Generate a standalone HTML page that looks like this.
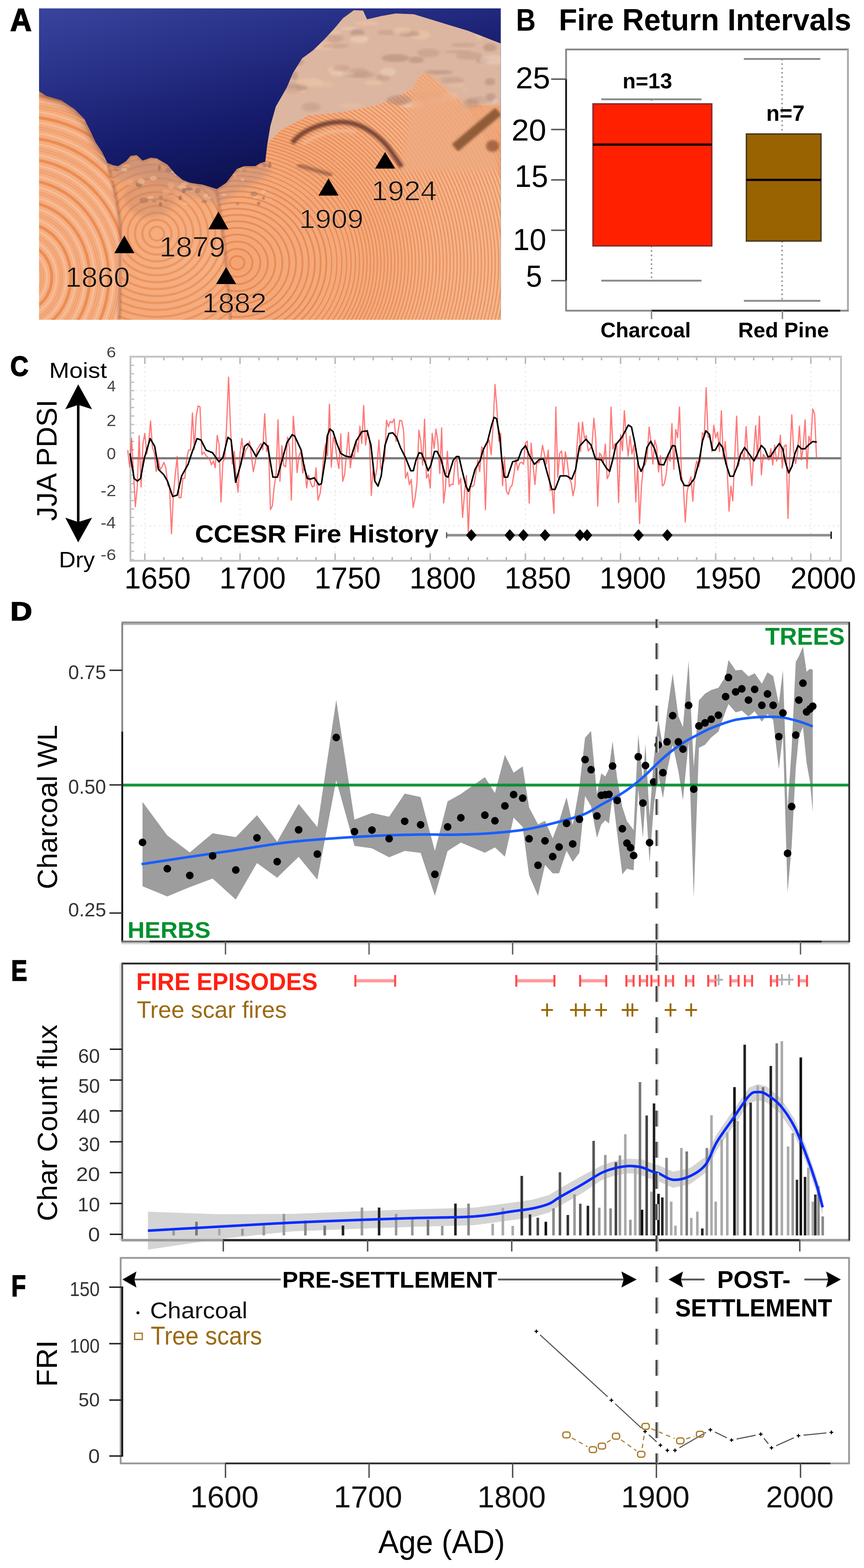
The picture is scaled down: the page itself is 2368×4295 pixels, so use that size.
<!DOCTYPE html>
<html><head><meta charset="utf-8"><title>Fire history figure</title>
<style>
html,body{margin:0;padding:0;background:#fff;}
body{width:2368px;height:4295px;overflow:hidden;}
svg{display:block;}
</style></head>
<body>
<svg width="2368" height="4295" viewBox="0 0 2368 4295" font-family="'Liberation Sans', Arial, sans-serif">
<text transform="translate(27.97,83.50) scale(0.9244,1)" font-size="88.00" font-weight="bold" fill="#000" stroke="#000" stroke-width="2.5">A</text>
<defs><linearGradient id="sky" x1="0" y1="0" x2="0.35" y2="1"><stop offset="0" stop-color="#3a449c"/><stop offset="0.22" stop-color="#283188"/><stop offset="0.45" stop-color="#161c6c"/><stop offset="0.65" stop-color="#0c104e"/><stop offset="1" stop-color="#070a3a"/></linearGradient><clipPath id="woodclip"><polygon points="107.0,250.0 127.0,263.0 168.0,275.0 204.0,299.0 231.0,326.0 249.0,362.0 262.0,390.0 280.0,417.0 294.0,446.0 311.0,453.0 324.0,455.0 345.0,442.0 358.0,427.0 375.0,425.0 391.0,440.0 413.0,432.0 430.0,434.0 459.0,451.0 480.0,476.0 501.0,493.0 522.0,501.0 556.0,506.0 582.0,514.0 594.0,518.0 620.0,501.0 649.0,463.0 670.0,455.0 700.0,455.0 713.0,447.0 727.0,443.0 732.0,400.0 741.0,345.0 756.0,292.0 786.0,240.0 803.0,200.0 828.0,160.0 858.0,138.0 887.0,110.0 915.0,80.0 940.0,50.0 970.0,28.0 995.0,29.0 1006.0,53.0 1045.0,44.0 1084.0,37.0 1134.0,39.0 1183.0,54.0 1232.0,69.0 1282.0,84.0 1331.0,103.0 1372.0,119.0 1372.5,876.0 107.0,876.0"/></clipPath><clipPath id="cl_left"><polygon points="107.0,250.0 127.0,263.0 168.0,275.0 204.0,299.0 231.0,326.0 249.0,362.0 262.0,390.0 280.0,417.0 294.0,446.0 310.0,520.0 330.0,620.0 336.0,700.0 326.0,876.0 107.0,876.0"/></clipPath><clipPath id="cl_mid"><polygon points="294.0,446.0 311.0,453.0 324.0,455.0 345.0,442.0 358.0,427.0 375.0,425.0 391.0,440.0 413.0,432.0 430.0,434.0 459.0,451.0 480.0,476.0 501.0,493.0 522.0,501.0 556.0,506.0 582.0,514.0 594.0,518.0 605.0,600.0 615.0,700.0 632.0,876.0 326.0,876.0 336.0,700.0 330.0,620.0 310.0,520.0"/></clipPath><clipPath id="cl_right"><polygon points="594.0,518.0 620.0,501.0 649.0,463.0 670.0,455.0 700.0,455.0 713.0,447.0 727.0,443.0 732.0,400.0 741.0,345.0 756.0,292.0 786.0,240.0 803.0,200.0 828.0,160.0 858.0,138.0 887.0,110.0 915.0,80.0 940.0,50.0 970.0,28.0 995.0,29.0 1006.0,53.0 1045.0,44.0 1084.0,37.0 1134.0,39.0 1183.0,54.0 1232.0,69.0 1282.0,84.0 1331.0,103.0 1372.0,119.0 1372.5,876.0 632.0,876.0 615.0,700.0 605.0,600.0"/></clipPath><radialGradient id="woodg" cx="0.35" cy="0.8" r="0.9"><stop offset="0" stop-color="#f6b085"/><stop offset="0.6" stop-color="#f2a16c"/><stop offset="1" stop-color="#eea070"/></radialGradient><radialGradient id="rlight" cx="650" cy="720" r="760" gradientUnits="userSpaceOnUse"><stop offset="0" stop-color="#f09050" stop-opacity="0.35"/><stop offset="0.35" stop-color="#f6b08a" stop-opacity="0.1"/><stop offset="0.7" stop-color="#fcd2b8" stop-opacity="0.35"/><stop offset="1" stop-color="#fcd2b8" stop-opacity="0.45"/></radialGradient><filter id="blur3"><feGaussianBlur stdDeviation="3"/></filter><filter id="blur8"><feGaussianBlur stdDeviation="8"/></filter></defs>
<rect x="107.0" y="23.0" width="1265.5" height="853.0" fill="url(#sky)"/>
<polygon points="107.0,250.0 127.0,263.0 168.0,275.0 204.0,299.0 231.0,326.0 249.0,362.0 262.0,390.0 280.0,417.0 294.0,446.0 311.0,453.0 324.0,455.0 345.0,442.0 358.0,427.0 375.0,425.0 391.0,440.0 413.0,432.0 430.0,434.0 459.0,451.0 480.0,476.0 501.0,493.0 522.0,501.0 556.0,506.0 582.0,514.0 594.0,518.0 620.0,501.0 649.0,463.0 670.0,455.0 700.0,455.0 713.0,447.0 727.0,443.0 732.0,400.0 741.0,345.0 756.0,292.0 786.0,240.0 803.0,200.0 828.0,160.0 858.0,138.0 887.0,110.0 915.0,80.0 940.0,50.0 970.0,28.0 995.0,29.0 1006.0,53.0 1045.0,44.0 1084.0,37.0 1134.0,39.0 1183.0,54.0 1232.0,69.0 1282.0,84.0 1331.0,103.0 1372.0,119.0 1372.5,876.0 107.0,876.0" fill="url(#woodg)"/>
<g clip-path="url(#woodclip)">
<g clip-path="url(#cl_left)">
<rect x="107.0" y="240.0" width="240.0" height="640.0" fill="#f7b48c" opacity="0.6"/>
<ellipse cx="60" cy="760" rx="30" ry="34" fill="none" stroke="#e2722e" stroke-width="8" stroke-opacity="0.55"/>
<ellipse cx="60" cy="760" rx="56" ry="63" fill="none" stroke="#e2722e" stroke-width="8" stroke-opacity="0.55"/>
<ellipse cx="60" cy="760" rx="82" ry="92" fill="none" stroke="#e2722e" stroke-width="8" stroke-opacity="0.55"/>
<ellipse cx="60" cy="760" rx="108" ry="121" fill="none" stroke="#e2722e" stroke-width="8" stroke-opacity="0.55"/>
<ellipse cx="60" cy="760" rx="134" ry="150" fill="none" stroke="#e2722e" stroke-width="8" stroke-opacity="0.55"/>
<ellipse cx="60" cy="760" rx="160" ry="179" fill="none" stroke="#e2722e" stroke-width="8" stroke-opacity="0.55"/>
<ellipse cx="60" cy="760" rx="186" ry="208" fill="none" stroke="#e2722e" stroke-width="8" stroke-opacity="0.55"/>
<ellipse cx="60" cy="760" rx="212" ry="237" fill="none" stroke="#e2722e" stroke-width="8" stroke-opacity="0.55"/>
<ellipse cx="60" cy="760" rx="238" ry="267" fill="none" stroke="#e2722e" stroke-width="8" stroke-opacity="0.55"/>
<ellipse cx="60" cy="760" rx="264" ry="296" fill="none" stroke="#e2722e" stroke-width="8" stroke-opacity="0.55"/>
<ellipse cx="60" cy="760" rx="290" ry="325" fill="none" stroke="#e2722e" stroke-width="8" stroke-opacity="0.55"/>
<ellipse cx="60" cy="760" rx="316" ry="354" fill="none" stroke="#e2722e" stroke-width="8" stroke-opacity="0.55"/>
<ellipse cx="60" cy="760" rx="342" ry="383" fill="none" stroke="#e2722e" stroke-width="8" stroke-opacity="0.55"/>
<ellipse cx="60" cy="760" rx="368" ry="412" fill="none" stroke="#e2722e" stroke-width="8" stroke-opacity="0.55"/>
<ellipse cx="60" cy="760" rx="394" ry="441" fill="none" stroke="#e2722e" stroke-width="8" stroke-opacity="0.55"/>
<ellipse cx="60" cy="760" rx="420" ry="470" fill="none" stroke="#e2722e" stroke-width="8" stroke-opacity="0.55"/>
<ellipse cx="60" cy="760" rx="446" ry="500" fill="none" stroke="#e2722e" stroke-width="8" stroke-opacity="0.55"/>
<ellipse cx="60" cy="760" rx="472" ry="529" fill="none" stroke="#e2722e" stroke-width="8" stroke-opacity="0.55"/>
<ellipse cx="60" cy="760" rx="498" ry="558" fill="none" stroke="#e2722e" stroke-width="8" stroke-opacity="0.55"/>
<ellipse cx="60" cy="760" rx="524" ry="587" fill="none" stroke="#e2722e" stroke-width="8" stroke-opacity="0.55"/>
<ellipse cx="60" cy="760" rx="550" ry="616" fill="none" stroke="#e2722e" stroke-width="8" stroke-opacity="0.55"/>
<ellipse cx="60" cy="760" rx="576" ry="645" fill="none" stroke="#e2722e" stroke-width="8" stroke-opacity="0.55"/>
<ellipse cx="60" cy="760" rx="602" ry="674" fill="none" stroke="#e2722e" stroke-width="8" stroke-opacity="0.55"/>
<ellipse cx="60" cy="760" rx="43" ry="48" fill="none" stroke="#fbd0b4" stroke-width="5" stroke-opacity="0.45"/>
<ellipse cx="60" cy="760" rx="69" ry="77" fill="none" stroke="#fbd0b4" stroke-width="5" stroke-opacity="0.45"/>
<ellipse cx="60" cy="760" rx="95" ry="106" fill="none" stroke="#fbd0b4" stroke-width="5" stroke-opacity="0.45"/>
<ellipse cx="60" cy="760" rx="121" ry="136" fill="none" stroke="#fbd0b4" stroke-width="5" stroke-opacity="0.45"/>
<ellipse cx="60" cy="760" rx="147" ry="165" fill="none" stroke="#fbd0b4" stroke-width="5" stroke-opacity="0.45"/>
<ellipse cx="60" cy="760" rx="173" ry="194" fill="none" stroke="#fbd0b4" stroke-width="5" stroke-opacity="0.45"/>
<ellipse cx="60" cy="760" rx="199" ry="223" fill="none" stroke="#fbd0b4" stroke-width="5" stroke-opacity="0.45"/>
<ellipse cx="60" cy="760" rx="225" ry="252" fill="none" stroke="#fbd0b4" stroke-width="5" stroke-opacity="0.45"/>
<ellipse cx="60" cy="760" rx="251" ry="281" fill="none" stroke="#fbd0b4" stroke-width="5" stroke-opacity="0.45"/>
<ellipse cx="60" cy="760" rx="277" ry="310" fill="none" stroke="#fbd0b4" stroke-width="5" stroke-opacity="0.45"/>
<ellipse cx="60" cy="760" rx="303" ry="339" fill="none" stroke="#fbd0b4" stroke-width="5" stroke-opacity="0.45"/>
<ellipse cx="60" cy="760" rx="329" ry="368" fill="none" stroke="#fbd0b4" stroke-width="5" stroke-opacity="0.45"/>
<ellipse cx="60" cy="760" rx="355" ry="398" fill="none" stroke="#fbd0b4" stroke-width="5" stroke-opacity="0.45"/>
<ellipse cx="60" cy="760" rx="381" ry="427" fill="none" stroke="#fbd0b4" stroke-width="5" stroke-opacity="0.45"/>
<ellipse cx="60" cy="760" rx="407" ry="456" fill="none" stroke="#fbd0b4" stroke-width="5" stroke-opacity="0.45"/>
<ellipse cx="60" cy="760" rx="433" ry="485" fill="none" stroke="#fbd0b4" stroke-width="5" stroke-opacity="0.45"/>
<ellipse cx="60" cy="760" rx="459" ry="514" fill="none" stroke="#fbd0b4" stroke-width="5" stroke-opacity="0.45"/>
<ellipse cx="60" cy="760" rx="485" ry="543" fill="none" stroke="#fbd0b4" stroke-width="5" stroke-opacity="0.45"/>
<ellipse cx="60" cy="760" rx="511" ry="572" fill="none" stroke="#fbd0b4" stroke-width="5" stroke-opacity="0.45"/>
<ellipse cx="60" cy="760" rx="537" ry="601" fill="none" stroke="#fbd0b4" stroke-width="5" stroke-opacity="0.45"/>
<ellipse cx="60" cy="760" rx="563" ry="631" fill="none" stroke="#fbd0b4" stroke-width="5" stroke-opacity="0.45"/>
<ellipse cx="60" cy="760" rx="589" ry="660" fill="none" stroke="#fbd0b4" stroke-width="5" stroke-opacity="0.45"/>
<ellipse cx="60" cy="760" rx="615" ry="689" fill="none" stroke="#fbd0b4" stroke-width="5" stroke-opacity="0.45"/>
</g>
<g clip-path="url(#cl_mid)">
<ellipse cx="430" cy="640" rx="20" ry="19" fill="none" stroke="#e27a3a" stroke-width="6" stroke-opacity="0.45"/>
<ellipse cx="430" cy="640" rx="40" ry="38" fill="none" stroke="#e27a3a" stroke-width="6" stroke-opacity="0.45"/>
<ellipse cx="430" cy="640" rx="60" ry="57" fill="none" stroke="#e27a3a" stroke-width="6" stroke-opacity="0.45"/>
<ellipse cx="430" cy="640" rx="80" ry="76" fill="none" stroke="#e27a3a" stroke-width="6" stroke-opacity="0.45"/>
<ellipse cx="430" cy="640" rx="100" ry="95" fill="none" stroke="#e27a3a" stroke-width="6" stroke-opacity="0.45"/>
<ellipse cx="430" cy="640" rx="120" ry="114" fill="none" stroke="#e27a3a" stroke-width="6" stroke-opacity="0.45"/>
<ellipse cx="430" cy="640" rx="140" ry="133" fill="none" stroke="#e27a3a" stroke-width="6" stroke-opacity="0.45"/>
<ellipse cx="430" cy="640" rx="160" ry="152" fill="none" stroke="#e27a3a" stroke-width="6" stroke-opacity="0.45"/>
<ellipse cx="430" cy="640" rx="180" ry="171" fill="none" stroke="#e27a3a" stroke-width="6" stroke-opacity="0.45"/>
<ellipse cx="430" cy="640" rx="200" ry="190" fill="none" stroke="#e27a3a" stroke-width="6" stroke-opacity="0.45"/>
<ellipse cx="430" cy="640" rx="220" ry="209" fill="none" stroke="#e27a3a" stroke-width="6" stroke-opacity="0.45"/>
<ellipse cx="430" cy="640" rx="240" ry="228" fill="none" stroke="#e27a3a" stroke-width="6" stroke-opacity="0.45"/>
<ellipse cx="430" cy="640" rx="260" ry="247" fill="none" stroke="#e27a3a" stroke-width="6" stroke-opacity="0.45"/>
<ellipse cx="430" cy="640" rx="280" ry="266" fill="none" stroke="#e27a3a" stroke-width="6" stroke-opacity="0.45"/>
<ellipse cx="430" cy="640" rx="300" ry="285" fill="none" stroke="#e27a3a" stroke-width="6" stroke-opacity="0.45"/>
<ellipse cx="430" cy="640" rx="320" ry="304" fill="none" stroke="#e27a3a" stroke-width="6" stroke-opacity="0.45"/>
<ellipse cx="430" cy="640" rx="340" ry="323" fill="none" stroke="#e27a3a" stroke-width="6" stroke-opacity="0.45"/>
<ellipse cx="430" cy="640" rx="360" ry="342" fill="none" stroke="#e27a3a" stroke-width="6" stroke-opacity="0.45"/>
<ellipse cx="430" cy="640" rx="380" ry="361" fill="none" stroke="#e27a3a" stroke-width="6" stroke-opacity="0.45"/>
<ellipse cx="430" cy="640" rx="400" ry="380" fill="none" stroke="#e27a3a" stroke-width="6" stroke-opacity="0.45"/>
<ellipse cx="410" cy="540" rx="70" ry="55" fill="#b98068" opacity="0.35" filter="url(#blur8)"/>
<path d="M300,455 L600,520 L600,470 L300,430 Z" fill="#c08f7c" opacity="0.35" filter="url(#blur8)"/>
</g>
<g clip-path="url(#cl_right)">
<circle cx="650" cy="720" r="760" fill="url(#rlight)"/>
<ellipse cx="650" cy="720" rx="20.0" ry="18.4" fill="none" stroke="#dd7038" stroke-width="5" stroke-opacity="0.5"/>
<ellipse cx="650" cy="720" rx="42.0" ry="38.6" fill="none" stroke="#dd7038" stroke-width="5" stroke-opacity="0.5"/>
<ellipse cx="650" cy="720" rx="63.4" ry="58.3" fill="none" stroke="#dd7038" stroke-width="5" stroke-opacity="0.5"/>
<ellipse cx="650" cy="720" rx="84.2" ry="77.5" fill="none" stroke="#dd7038" stroke-width="5" stroke-opacity="0.5"/>
<ellipse cx="650" cy="720" rx="104.4" ry="96.0" fill="none" stroke="#dd7038" stroke-width="5" stroke-opacity="0.5"/>
<ellipse cx="650" cy="720" rx="124.0" ry="114.1" fill="none" stroke="#dd7038" stroke-width="5" stroke-opacity="0.5"/>
<ellipse cx="650" cy="720" rx="143.0" ry="131.6" fill="none" stroke="#dd7038" stroke-width="5" stroke-opacity="0.5"/>
<ellipse cx="650" cy="720" rx="161.4" ry="148.5" fill="none" stroke="#dd7038" stroke-width="5" stroke-opacity="0.5"/>
<ellipse cx="650" cy="720" rx="179.2" ry="164.9" fill="none" stroke="#dd7038" stroke-width="5" stroke-opacity="0.5"/>
<ellipse cx="650" cy="720" rx="196.4" ry="180.7" fill="none" stroke="#dd7038" stroke-width="5" stroke-opacity="0.5"/>
<ellipse cx="650" cy="720" rx="213.0" ry="196.0" fill="none" stroke="#dd7038" stroke-width="5" stroke-opacity="0.5"/>
<ellipse cx="650" cy="720" rx="229.0" ry="210.7" fill="none" stroke="#dd7038" stroke-width="5" stroke-opacity="0.5"/>
<ellipse cx="650" cy="720" rx="244.4" ry="224.8" fill="none" stroke="#dd7038" stroke-width="5" stroke-opacity="0.5"/>
<ellipse cx="650" cy="720" rx="259.2" ry="238.5" fill="none" stroke="#dd7038" stroke-width="3.5" stroke-opacity="0.5"/>
<ellipse cx="650" cy="720" rx="273.4" ry="251.5" fill="none" stroke="#dd7038" stroke-width="3.5" stroke-opacity="0.5"/>
<ellipse cx="650" cy="720" rx="287.0" ry="264.0" fill="none" stroke="#dd7038" stroke-width="3.5" stroke-opacity="0.5"/>
<ellipse cx="650" cy="720" rx="300.0" ry="276.0" fill="none" stroke="#dd7038" stroke-width="3.5" stroke-opacity="0.5"/>
<ellipse cx="650" cy="720" rx="312.4" ry="287.4" fill="none" stroke="#dd7038" stroke-width="3.5" stroke-opacity="0.5"/>
<ellipse cx="650" cy="720" rx="324.2" ry="298.3" fill="none" stroke="#dd7038" stroke-width="3.5" stroke-opacity="0.5"/>
<ellipse cx="650" cy="720" rx="335.4" ry="308.6" fill="none" stroke="#dd7038" stroke-width="3.5" stroke-opacity="0.5"/>
<ellipse cx="650" cy="720" rx="346.0" ry="318.3" fill="none" stroke="#dd7038" stroke-width="3.5" stroke-opacity="0.5"/>
<ellipse cx="650" cy="720" rx="356.0" ry="327.5" fill="none" stroke="#dd7038" stroke-width="3.5" stroke-opacity="0.5"/>
<ellipse cx="650" cy="720" rx="365.5" ry="336.3" fill="none" stroke="#dd7038" stroke-width="3.5" stroke-opacity="0.5"/>
<ellipse cx="650" cy="720" rx="375.0" ry="345.0" fill="none" stroke="#dd7038" stroke-width="3.5" stroke-opacity="0.5"/>
<ellipse cx="650" cy="720" rx="384.5" ry="353.7" fill="none" stroke="#dd7038" stroke-width="3.5" stroke-opacity="0.5"/>
<ellipse cx="650" cy="720" rx="394.0" ry="362.5" fill="none" stroke="#dd7038" stroke-width="3.5" stroke-opacity="0.5"/>
<ellipse cx="650" cy="720" rx="403.5" ry="371.2" fill="none" stroke="#dd7038" stroke-width="3.5" stroke-opacity="0.5"/>
<ellipse cx="650" cy="720" rx="413.0" ry="380.0" fill="none" stroke="#dd7038" stroke-width="3.5" stroke-opacity="0.5"/>
<ellipse cx="650" cy="720" rx="422.5" ry="388.7" fill="none" stroke="#dd7038" stroke-width="3.5" stroke-opacity="0.5"/>
<ellipse cx="650" cy="720" rx="432.0" ry="397.4" fill="none" stroke="#dd7038" stroke-width="3.5" stroke-opacity="0.5"/>
<ellipse cx="650" cy="720" rx="441.5" ry="406.2" fill="none" stroke="#dd7038" stroke-width="3.5" stroke-opacity="0.5"/>
<ellipse cx="650" cy="720" rx="451.0" ry="414.9" fill="none" stroke="#dd7038" stroke-width="3.5" stroke-opacity="0.5"/>
<ellipse cx="650" cy="720" rx="460.5" ry="423.7" fill="none" stroke="#dd7038" stroke-width="3.5" stroke-opacity="0.5"/>
<ellipse cx="650" cy="720" rx="470.0" ry="432.4" fill="none" stroke="#dd7038" stroke-width="3.5" stroke-opacity="0.5"/>
<ellipse cx="650" cy="720" rx="479.5" ry="441.1" fill="none" stroke="#dd7038" stroke-width="3.5" stroke-opacity="0.5"/>
<ellipse cx="650" cy="720" rx="489.0" ry="449.9" fill="none" stroke="#dd7038" stroke-width="3.5" stroke-opacity="0.5"/>
<ellipse cx="650" cy="720" rx="498.5" ry="458.6" fill="none" stroke="#dd7038" stroke-width="3.5" stroke-opacity="0.5"/>
<ellipse cx="650" cy="720" rx="508.0" ry="467.4" fill="none" stroke="#dd7038" stroke-width="3.5" stroke-opacity="0.5"/>
<ellipse cx="650" cy="720" rx="517.5" ry="476.1" fill="none" stroke="#dd7038" stroke-width="3.5" stroke-opacity="0.5"/>
<ellipse cx="650" cy="720" rx="527.0" ry="484.8" fill="none" stroke="#dd7038" stroke-width="3.5" stroke-opacity="0.5"/>
<ellipse cx="650" cy="720" rx="536.5" ry="493.6" fill="none" stroke="#dd7038" stroke-width="3.5" stroke-opacity="0.5"/>
<ellipse cx="650" cy="720" rx="546.0" ry="502.3" fill="none" stroke="#dd7038" stroke-width="3.5" stroke-opacity="0.5"/>
<ellipse cx="650" cy="720" rx="555.5" ry="511.1" fill="none" stroke="#dd7038" stroke-width="3.5" stroke-opacity="0.5"/>
<ellipse cx="650" cy="720" rx="565.0" ry="519.8" fill="none" stroke="#dd7038" stroke-width="3.5" stroke-opacity="0.5"/>
<ellipse cx="650" cy="720" rx="574.5" ry="528.5" fill="none" stroke="#dd7038" stroke-width="3.5" stroke-opacity="0.5"/>
<ellipse cx="650" cy="720" rx="584.0" ry="537.3" fill="none" stroke="#dd7038" stroke-width="3.5" stroke-opacity="0.5"/>
<ellipse cx="650" cy="720" rx="593.5" ry="546.0" fill="none" stroke="#dd7038" stroke-width="3.5" stroke-opacity="0.5"/>
<ellipse cx="650" cy="720" rx="603.0" ry="554.8" fill="none" stroke="#dd7038" stroke-width="3.5" stroke-opacity="0.5"/>
<ellipse cx="650" cy="720" rx="612.5" ry="563.5" fill="none" stroke="#dd7038" stroke-width="3.5" stroke-opacity="0.5"/>
<ellipse cx="650" cy="720" rx="622.0" ry="572.2" fill="none" stroke="#dd7038" stroke-width="3.5" stroke-opacity="0.5"/>
<ellipse cx="650" cy="720" rx="631.5" ry="581.0" fill="none" stroke="#dd7038" stroke-width="3.5" stroke-opacity="0.5"/>
<ellipse cx="650" cy="720" rx="641.0" ry="589.7" fill="none" stroke="#dd7038" stroke-width="3.5" stroke-opacity="0.5"/>
<ellipse cx="650" cy="720" rx="650.5" ry="598.5" fill="none" stroke="#dd7038" stroke-width="3.5" stroke-opacity="0.5"/>
<ellipse cx="650" cy="720" rx="660.0" ry="607.2" fill="none" stroke="#dd7038" stroke-width="3.5" stroke-opacity="0.5"/>
<ellipse cx="650" cy="720" rx="669.5" ry="615.9" fill="none" stroke="#dd7038" stroke-width="3.5" stroke-opacity="0.5"/>
<ellipse cx="650" cy="720" rx="679.0" ry="624.7" fill="none" stroke="#dd7038" stroke-width="3.5" stroke-opacity="0.5"/>
<ellipse cx="650" cy="720" rx="688.5" ry="633.4" fill="none" stroke="#dd7038" stroke-width="3.5" stroke-opacity="0.5"/>
<ellipse cx="650" cy="720" rx="698.0" ry="642.2" fill="none" stroke="#dd7038" stroke-width="3.5" stroke-opacity="0.5"/>
<ellipse cx="650" cy="720" rx="707.5" ry="650.9" fill="none" stroke="#dd7038" stroke-width="3.5" stroke-opacity="0.5"/>
<ellipse cx="650" cy="720" rx="717.0" ry="659.6" fill="none" stroke="#dd7038" stroke-width="3.5" stroke-opacity="0.5"/>
<ellipse cx="650" cy="720" rx="726.5" ry="668.4" fill="none" stroke="#dd7038" stroke-width="3.5" stroke-opacity="0.5"/>
<ellipse cx="650" cy="720" rx="736.0" ry="677.1" fill="none" stroke="#dd7038" stroke-width="3.5" stroke-opacity="0.5"/>
<ellipse cx="650" cy="720" rx="745.5" ry="685.9" fill="none" stroke="#dd7038" stroke-width="3.5" stroke-opacity="0.5"/>
<ellipse cx="650" cy="720" rx="755.0" ry="694.6" fill="none" stroke="#dd7038" stroke-width="3.5" stroke-opacity="0.5"/>
<ellipse cx="650" cy="720" rx="764.5" ry="703.3" fill="none" stroke="#dd7038" stroke-width="3.5" stroke-opacity="0.5"/>
<ellipse cx="650" cy="720" rx="774.0" ry="712.1" fill="none" stroke="#dd7038" stroke-width="3.5" stroke-opacity="0.5"/>
<ellipse cx="650" cy="720" rx="783.5" ry="720.8" fill="none" stroke="#dd7038" stroke-width="3.5" stroke-opacity="0.5"/>
<ellipse cx="650" cy="720" rx="793.0" ry="729.6" fill="none" stroke="#dd7038" stroke-width="3.5" stroke-opacity="0.5"/>
<ellipse cx="650" cy="720" rx="802.5" ry="738.3" fill="none" stroke="#dd7038" stroke-width="3.5" stroke-opacity="0.5"/>
<ellipse cx="650" cy="720" rx="812.0" ry="747.0" fill="none" stroke="#dd7038" stroke-width="3.5" stroke-opacity="0.5"/>
</g>
<polygon points="732.0,400.0 741.0,345.0 756.0,292.0 786.0,240.0 803.0,200.0 828.0,160.0 858.0,138.0 887.0,110.0 915.0,80.0 940.0,50.0 970.0,28.0 995.0,29.0 1006.0,53.0 1045.0,44.0 1084.0,37.0 1134.0,39.0 1183.0,54.0 1232.0,69.0 1282.0,84.0 1331.0,103.0 1372.0,119.0 1372.0,290.0 1323.0,288.0 1275.0,288.0 1227.0,250.0 1179.0,205.0 1155.0,205.0 1131.0,245.0 1035.0,288.0 940.0,307.0 844.0,317.0 772.0,355.0 740.0,385.0" fill="#dcb6a0"/>
<ellipse cx="918" cy="191" rx="21" ry="10" fill="#f2c8a8" opacity="0.55" filter="url(#blur3)"/>
<ellipse cx="818" cy="63" rx="35" ry="7" fill="#ecd0c0" opacity="0.55" filter="url(#blur3)"/>
<ellipse cx="891" cy="232" rx="26" ry="10" fill="#e8c0a0" opacity="0.55" filter="url(#blur3)"/>
<ellipse cx="1151" cy="96" rx="29" ry="13" fill="#f2c8a8" opacity="0.55" filter="url(#blur3)"/>
<ellipse cx="1006" cy="64" rx="33" ry="6" fill="#f2c8a8" opacity="0.55" filter="url(#blur3)"/>
<ellipse cx="805" cy="247" rx="35" ry="7" fill="#f2c8a8" opacity="0.55" filter="url(#blur3)"/>
<ellipse cx="1197" cy="271" rx="31" ry="13" fill="#e8c0a0" opacity="0.55" filter="url(#blur3)"/>
<ellipse cx="1202" cy="198" rx="39" ry="6" fill="#b08a7a" opacity="0.55" filter="url(#blur3)"/>
<ellipse cx="837" cy="93" rx="17" ry="14" fill="#e8c0a0" opacity="0.55" filter="url(#blur3)"/>
<ellipse cx="1232" cy="265" rx="23" ry="13" fill="#f2c8a8" opacity="0.55" filter="url(#blur3)"/>
<ellipse cx="984" cy="200" rx="28" ry="13" fill="#c29a88" opacity="0.55" filter="url(#blur3)"/>
<ellipse cx="1277" cy="298" rx="30" ry="6" fill="#b08a7a" opacity="0.55" filter="url(#blur3)"/>
<ellipse cx="1339" cy="277" rx="27" ry="11" fill="#ecd0c0" opacity="0.55" filter="url(#blur3)"/>
<ellipse cx="1147" cy="297" rx="18" ry="6" fill="#e8c0a0" opacity="0.55" filter="url(#blur3)"/>
<ellipse cx="1275" cy="298" rx="13" ry="12" fill="#e8c0a0" opacity="0.55" filter="url(#blur3)"/>
<ellipse cx="1300" cy="65" rx="23" ry="9" fill="#c29a88" opacity="0.55" filter="url(#blur3)"/>
<ellipse cx="806" cy="207" rx="11" ry="11" fill="#b08a7a" opacity="0.55" filter="url(#blur3)"/>
<ellipse cx="1099" cy="281" rx="18" ry="7" fill="#c29a88" opacity="0.55" filter="url(#blur3)"/>
<ellipse cx="960" cy="78" rx="28" ry="5" fill="#ecd0c0" opacity="0.55" filter="url(#blur3)"/>
<ellipse cx="1343" cy="130" rx="18" ry="11" fill="#b08a7a" opacity="0.55" filter="url(#blur3)"/>
<ellipse cx="962" cy="290" rx="37" ry="8" fill="#e8c0a0" opacity="0.55" filter="url(#blur3)"/>
<ellipse cx="1285" cy="153" rx="36" ry="11" fill="#c29a88" opacity="0.55" filter="url(#blur3)"/>
<ellipse cx="1140" cy="286" rx="25" ry="9" fill="#ecd0c0" opacity="0.55" filter="url(#blur3)"/>
<ellipse cx="1323" cy="165" rx="18" ry="8" fill="#b08a7a" opacity="0.55" filter="url(#blur3)"/>
<ellipse cx="787" cy="160" rx="27" ry="5" fill="#f2c8a8" opacity="0.55" filter="url(#blur3)"/>
<ellipse cx="1122" cy="92" rx="29" ry="8" fill="#b08a7a" opacity="0.55" filter="url(#blur3)"/>
<ellipse cx="1174" cy="145" rx="31" ry="12" fill="#c29a88" opacity="0.55" filter="url(#blur3)"/>
<ellipse cx="1122" cy="289" rx="11" ry="8" fill="#e8c0a0" opacity="0.55" filter="url(#blur3)"/>
<ellipse cx="953" cy="204" rx="15" ry="7" fill="#b08a7a" opacity="0.55" filter="url(#blur3)"/>
<ellipse cx="1269" cy="123" rx="34" ry="6" fill="#c29a88" opacity="0.55" filter="url(#blur3)"/>
<ellipse cx="1343" cy="224" rx="14" ry="10" fill="#b08a7a" opacity="0.55" filter="url(#blur3)"/>
<ellipse cx="918" cy="105" rx="23" ry="11" fill="#c29a88" opacity="0.55" filter="url(#blur3)"/>
<ellipse cx="1128" cy="288" rx="30" ry="7" fill="#ecd0c0" opacity="0.55" filter="url(#blur3)"/>
<ellipse cx="826" cy="238" rx="17" ry="10" fill="#b08a7a" opacity="0.55" filter="url(#blur3)"/>
<ellipse cx="911" cy="89" rx="26" ry="7" fill="#f2c8a8" opacity="0.55" filter="url(#blur3)"/>
<ellipse cx="886" cy="127" rx="34" ry="11" fill="#f2c8a8" opacity="0.55" filter="url(#blur3)"/>
<ellipse cx="980" cy="91" rx="19" ry="12" fill="#b08a7a" opacity="0.55" filter="url(#blur3)"/>
<ellipse cx="1050" cy="212" rx="19" ry="10" fill="#c29a88" opacity="0.55" filter="url(#blur3)"/>
<ellipse cx="1314" cy="97" rx="10" ry="13" fill="#f2c8a8" opacity="0.55" filter="url(#blur3)"/>
<ellipse cx="1352" cy="164" rx="39" ry="13" fill="#ecd0c0" opacity="0.55" filter="url(#blur3)"/>
<ellipse cx="799" cy="170" rx="33" ry="12" fill="#b08a7a" opacity="0.55" filter="url(#blur3)"/>
<ellipse cx="1095" cy="274" rx="36" ry="13" fill="#b08a7a" opacity="0.55" filter="url(#blur3)"/>
<ellipse cx="850" cy="119" rx="11" ry="12" fill="#f2c8a8" opacity="0.55" filter="url(#blur3)"/>
<ellipse cx="1316" cy="275" rx="37" ry="10" fill="#c29a88" opacity="0.55" filter="url(#blur3)"/>
<ellipse cx="1059" cy="89" rx="25" ry="7" fill="#c29a88" opacity="0.55" filter="url(#blur3)"/>
<ellipse cx="1084" cy="159" rx="38" ry="11" fill="#b08a7a" opacity="0.55" filter="url(#blur3)"/>
<ellipse cx="853" cy="293" rx="26" ry="12" fill="#c29a88" opacity="0.55" filter="url(#blur3)"/>
<ellipse cx="984" cy="107" rx="26" ry="12" fill="#ecd0c0" opacity="0.55" filter="url(#blur3)"/>
<ellipse cx="919" cy="126" rx="37" ry="6" fill="#c29a88" opacity="0.55" filter="url(#blur3)"/>
<ellipse cx="1063" cy="197" rx="22" ry="12" fill="#ecd0c0" opacity="0.55" filter="url(#blur3)"/>
<ellipse cx="936" cy="187" rx="23" ry="9" fill="#c29a88" opacity="0.55" filter="url(#blur3)"/>
<ellipse cx="1277" cy="246" rx="11" ry="5" fill="#e8c0a0" opacity="0.55" filter="url(#blur3)"/>
<ellipse cx="1345" cy="265" rx="13" ry="10" fill="#b08a7a" opacity="0.55" filter="url(#blur3)"/>
<ellipse cx="871" cy="77" rx="22" ry="9" fill="#b08a7a" opacity="0.55" filter="url(#blur3)"/>
<ellipse cx="989" cy="106" rx="20" ry="6" fill="#f2c8a8" opacity="0.55" filter="url(#blur3)"/>
<ellipse cx="782" cy="234" rx="34" ry="10" fill="#c29a88" opacity="0.55" filter="url(#blur3)"/>
<ellipse cx="996" cy="205" rx="33" ry="8" fill="#c29a88" opacity="0.55" filter="url(#blur3)"/>
<ellipse cx="1141" cy="164" rx="21" ry="9" fill="#b08a7a" opacity="0.55" filter="url(#blur3)"/>
<ellipse cx="1024" cy="227" rx="24" ry="7" fill="#f2c8a8" opacity="0.55" filter="url(#blur3)"/>
<ellipse cx="937" cy="202" rx="34" ry="7" fill="#ecd0c0" opacity="0.55" filter="url(#blur3)"/>
<ellipse cx="1290" cy="285" rx="21" ry="13" fill="#b08a7a" opacity="0.55" filter="url(#blur3)"/>
<ellipse cx="850" cy="226" rx="38" ry="12" fill="#f2c8a8" opacity="0.55" filter="url(#blur3)"/>
<ellipse cx="1240" cy="220" rx="32" ry="10" fill="#c29a88" opacity="0.55" filter="url(#blur3)"/>
<ellipse cx="1251" cy="232" rx="24" ry="7" fill="#e8c0a0" opacity="0.55" filter="url(#blur3)"/>
<ellipse cx="806" cy="82" rx="13" ry="13" fill="#ecd0c0" opacity="0.55" filter="url(#blur3)"/>
<ellipse cx="1255" cy="142" rx="36" ry="5" fill="#c29a88" opacity="0.55" filter="url(#blur3)"/>
<ellipse cx="1171" cy="261" rx="39" ry="10" fill="#c29a88" opacity="0.55" filter="url(#blur3)"/>
<ellipse cx="801" cy="244" rx="25" ry="11" fill="#c29a88" opacity="0.55" filter="url(#blur3)"/>
<ellipse cx="1102" cy="84" rx="27" ry="10" fill="#f2c8a8" opacity="0.55" filter="url(#blur3)"/>
<ellipse cx="885" cy="79" rx="40" ry="11" fill="#e8c0a0" opacity="0.55" filter="url(#blur3)"/>
<path d="M1131,245 L1155,205 L1179,205 L1227,250 L1275,288 L1372,290 L1372,470 L1100,470 Z" fill="#eeaa80" opacity="0.8" filter="url(#blur8)"/>
<path d="M801,392 C830,352 900,330 949,335 C1000,340 1050,380 1075,419 L1101,457" fill="none" stroke="#5e3028" stroke-width="13" stroke-opacity="0.8" filter="url(#blur3)"/>
<path d="M830,395 C870,365 930,350 975,362" fill="none" stroke="#f2c0a0" stroke-width="10" stroke-opacity="0.6" filter="url(#blur3)"/>
<path d="M815,452 C850,462 880,470 910,480" fill="none" stroke="#6a3a30" stroke-width="9" stroke-opacity="0.6" filter="url(#blur3)"/>
<path d="M1247,405 L1300,360 L1366,305" fill="none" stroke="#6a3a1e" stroke-width="26" stroke-opacity="0.7" filter="url(#blur3)"/>
<ellipse cx="1350" cy="400" rx="18" ry="16" fill="#7a3e20" opacity="0.6" filter="url(#blur3)"/>
<path d="M296,452 C315,520 335,600 330,700 C328,760 330,820 326,876" fill="none" stroke="#8b4a3a" stroke-width="7" stroke-opacity="0.5" filter="url(#blur3)"/>
<path d="M594,518 C602,580 612,640 618,700 C622,760 628,820 632,876" fill="none" stroke="#8b4a3a" stroke-width="6" stroke-opacity="0.5" filter="url(#blur3)"/>
<polyline points="107.0,250.0 127.0,263.0 168.0,275.0 204.0,299.0 231.0,326.0 249.0,362.0 262.0,390.0 280.0,417.0 294.0,446.0 311.0,453.0 324.0,455.0 345.0,442.0 358.0,427.0 375.0,425.0 391.0,440.0 413.0,432.0 430.0,434.0 459.0,451.0 480.0,476.0 501.0,493.0 522.0,501.0 556.0,506.0 582.0,514.0 594.0,518.0 620.0,501.0 649.0,463.0 670.0,455.0 700.0,455.0 713.0,447.0 727.0,443.0" fill="none" stroke="#8a5a4a" stroke-width="8" stroke-opacity="0.55" filter="url(#blur3)"/>
<polyline points="107.0,250.0 127.0,263.0 168.0,275.0 204.0,299.0 231.0,326.0 249.0,362.0 262.0,390.0 280.0,417.0 294.0,446.0" fill="none" stroke="#9a6048" stroke-width="22" stroke-opacity="0.45" filter="url(#blur8)"/>
<path d="M300,452 L345,442 L375,425 L413,432 L459,451 L501,493 L556,506 L594,518 L620,501 L649,463 L700,455 L727,443 L740,470 L700,500 L640,530 L600,560 L560,545 L500,530 L440,500 L380,490 L320,500 Z" fill="#b88a78" opacity="0.45" filter="url(#blur8)"/>
<ellipse cx="499" cy="512" rx="11" ry="5" fill="#f4c8a8" opacity="0.5"/>
<ellipse cx="381" cy="506" rx="9" ry="7" fill="#8a6050" opacity="0.5"/>
<ellipse cx="497" cy="466" rx="8" ry="7" fill="#8a6050" opacity="0.5"/>
<ellipse cx="562" cy="494" rx="8" ry="7" fill="#f4c8a8" opacity="0.5"/>
<ellipse cx="574" cy="541" rx="5" ry="3" fill="#f4c8a8" opacity="0.5"/>
<ellipse cx="564" cy="536" rx="7" ry="6" fill="#f4c8a8" opacity="0.5"/>
<ellipse cx="528" cy="520" rx="8" ry="6" fill="#f0b088" opacity="0.5"/>
<ellipse cx="588" cy="495" rx="8" ry="8" fill="#8a6050" opacity="0.5"/>
<ellipse cx="611" cy="485" rx="6" ry="4" fill="#8a6050" opacity="0.5"/>
<ellipse cx="548" cy="462" rx="5" ry="4" fill="#8a6050" opacity="0.5"/>
<ellipse cx="722" cy="543" rx="4" ry="4" fill="#8a6050" opacity="0.5"/>
<ellipse cx="507" cy="558" rx="7" ry="3" fill="#f4c8a8" opacity="0.5"/>
<ellipse cx="643" cy="480" rx="5" ry="5" fill="#f0b088" opacity="0.5"/>
<ellipse cx="634" cy="463" rx="6" ry="4" fill="#8a6050" opacity="0.5"/>
<ellipse cx="505" cy="504" rx="9" ry="4" fill="#f4c8a8" opacity="0.5"/>
<ellipse cx="734" cy="535" rx="7" ry="5" fill="#f0b088" opacity="0.5"/>
<ellipse cx="485" cy="473" rx="6" ry="8" fill="#a87060" opacity="0.5"/>
<ellipse cx="739" cy="452" rx="5" ry="8" fill="#8a6050" opacity="0.5"/>
<ellipse cx="319" cy="466" rx="8" ry="3" fill="#a87060" opacity="0.5"/>
<ellipse cx="665" cy="492" rx="5" ry="4" fill="#f4c8a8" opacity="0.5"/>
<ellipse cx="307" cy="491" rx="9" ry="4" fill="#f0b088" opacity="0.5"/>
<ellipse cx="666" cy="465" rx="7" ry="6" fill="#a87060" opacity="0.5"/>
<ellipse cx="700" cy="540" rx="6" ry="4" fill="#f4c8a8" opacity="0.5"/>
<ellipse cx="602" cy="493" rx="8" ry="3" fill="#8a6050" opacity="0.5"/>
<ellipse cx="346" cy="454" rx="12" ry="4" fill="#f0b088" opacity="0.5"/>
<ellipse cx="413" cy="541" rx="9" ry="4" fill="#f4c8a8" opacity="0.5"/>
<ellipse cx="709" cy="557" rx="5" ry="5" fill="#8a6050" opacity="0.5"/>
<ellipse cx="423" cy="551" rx="6" ry="3" fill="#a87060" opacity="0.5"/>
<ellipse cx="481" cy="477" rx="4" ry="4" fill="#f4c8a8" opacity="0.5"/>
<ellipse cx="341" cy="465" rx="8" ry="5" fill="#f4c8a8" opacity="0.5"/>
<ellipse cx="560" cy="552" rx="8" ry="5" fill="#a87060" opacity="0.5"/>
<ellipse cx="724" cy="452" rx="9" ry="5" fill="#a87060" opacity="0.5"/>
<ellipse cx="440" cy="560" rx="5" ry="6" fill="#8a6050" opacity="0.5"/>
<ellipse cx="696" cy="531" rx="10" ry="7" fill="#a87060" opacity="0.5"/>
<ellipse cx="455" cy="525" rx="11" ry="7" fill="#f0b088" opacity="0.5"/>
<ellipse cx="715" cy="453" rx="8" ry="3" fill="#f0b088" opacity="0.5"/>
<ellipse cx="467" cy="451" rx="5" ry="3" fill="#8a6050" opacity="0.5"/>
<ellipse cx="737" cy="547" rx="10" ry="5" fill="#f0b088" opacity="0.5"/>
<ellipse cx="494" cy="542" rx="5" ry="7" fill="#8a6050" opacity="0.5"/>
<ellipse cx="437" cy="460" rx="4" ry="8" fill="#8a6050" opacity="0.5"/>
<ellipse cx="519" cy="518" rx="11" ry="4" fill="#8a6050" opacity="0.5"/>
<ellipse cx="462" cy="466" rx="9" ry="6" fill="#a87060" opacity="0.5"/>
<ellipse cx="590" cy="499" rx="11" ry="5" fill="#a87060" opacity="0.5"/>
<ellipse cx="387" cy="497" rx="10" ry="8" fill="#f4c8a8" opacity="0.5"/>
<ellipse cx="469" cy="514" rx="7" ry="4" fill="#f0b088" opacity="0.5"/>
<ellipse cx="454" cy="549" rx="4" ry="3" fill="#a87060" opacity="0.5"/>
<ellipse cx="662" cy="462" rx="8" ry="8" fill="#f0b088" opacity="0.5"/>
<ellipse cx="468" cy="507" rx="9" ry="7" fill="#f0b088" opacity="0.5"/>
<ellipse cx="441" cy="541" rx="6" ry="6" fill="#a87060" opacity="0.5"/>
<ellipse cx="551" cy="484" rx="10" ry="3" fill="#f4c8a8" opacity="0.5"/>
<ellipse cx="478" cy="471" rx="10" ry="4" fill="#f4c8a8" opacity="0.5"/>
<ellipse cx="651" cy="558" rx="5" ry="4" fill="#a87060" opacity="0.5"/>
<ellipse cx="722" cy="525" rx="6" ry="5" fill="#f4c8a8" opacity="0.5"/>
<ellipse cx="614" cy="533" rx="8" ry="3" fill="#f4c8a8" opacity="0.5"/>
<ellipse cx="420" cy="488" rx="10" ry="6" fill="#f4c8a8" opacity="0.5"/>
<ellipse cx="473" cy="537" rx="11" ry="3" fill="#f0b088" opacity="0.5"/>
<ellipse cx="357" cy="500" rx="9" ry="8" fill="#f0b088" opacity="0.5"/>
<ellipse cx="542" cy="522" rx="8" ry="7" fill="#a87060" opacity="0.5"/>
<ellipse cx="504" cy="522" rx="6" ry="7" fill="#8a6050" opacity="0.5"/>
<ellipse cx="394" cy="549" rx="12" ry="8" fill="#a87060" opacity="0.5"/>
<ellipse cx="60" cy="760" rx="56" ry="63" fill="none" stroke="#ffe0c8" stroke-width="6" stroke-opacity="0.35" clip-path="url(#cl_left)"/>
<ellipse cx="60" cy="760" rx="108" ry="121" fill="none" stroke="#ffe0c8" stroke-width="6" stroke-opacity="0.35" clip-path="url(#cl_left)"/>
<ellipse cx="60" cy="760" rx="160" ry="179" fill="none" stroke="#ffe0c8" stroke-width="6" stroke-opacity="0.35" clip-path="url(#cl_left)"/>
<ellipse cx="60" cy="760" rx="212" ry="237" fill="none" stroke="#ffe0c8" stroke-width="6" stroke-opacity="0.35" clip-path="url(#cl_left)"/>
<ellipse cx="60" cy="760" rx="264" ry="296" fill="none" stroke="#ffe0c8" stroke-width="6" stroke-opacity="0.35" clip-path="url(#cl_left)"/>
<ellipse cx="60" cy="760" rx="316" ry="354" fill="none" stroke="#ffe0c8" stroke-width="6" stroke-opacity="0.35" clip-path="url(#cl_left)"/>
<ellipse cx="60" cy="760" rx="368" ry="412" fill="none" stroke="#ffe0c8" stroke-width="6" stroke-opacity="0.35" clip-path="url(#cl_left)"/>
<ellipse cx="60" cy="760" rx="420" ry="470" fill="none" stroke="#ffe0c8" stroke-width="6" stroke-opacity="0.35" clip-path="url(#cl_left)"/>
<ellipse cx="60" cy="760" rx="472" ry="529" fill="none" stroke="#ffe0c8" stroke-width="6" stroke-opacity="0.35" clip-path="url(#cl_left)"/>
<ellipse cx="60" cy="760" rx="524" ry="587" fill="none" stroke="#ffe0c8" stroke-width="6" stroke-opacity="0.35" clip-path="url(#cl_left)"/>
<ellipse cx="60" cy="760" rx="576" ry="645" fill="none" stroke="#ffe0c8" stroke-width="6" stroke-opacity="0.35" clip-path="url(#cl_left)"/>
</g>
<polygon points="340.8,645.0 368.3,693.6 313.3,693.6" fill="#000"/>
<polygon points="598.6,579.6 626.1,628.2 571.1,628.2" fill="#000"/>
<polygon points="619.7,731.7 647.2,778.0 592.2,778.0" fill="#000"/>
<polygon points="900.4,488.7 927.9,535.7 872.9,535.7" fill="#000"/>
<polygon points="1055.5,416.6 1083.0,461.7 1028.0,461.7" fill="#000"/>
<text transform="translate(179.03,785.83) scale(1.0317,1)" font-size="77.17" font-weight="normal" fill="#111" stroke="#f2ab80" stroke-width="1.4">1860</text>
<text transform="translate(436.38,703.22) scale(1.0493,1)" font-size="77.74" font-weight="normal" fill="#111" stroke="#f2ab80" stroke-width="1.4">1879</text>
<text transform="translate(554.05,855.74) scale(1.0381,1)" font-size="76.47" font-weight="normal" fill="#111" stroke="#f2ab80" stroke-width="1.4">1882</text>
<text transform="translate(819.65,624.97) scale(1.0941,1)" font-size="72.51" font-weight="normal" fill="#111" stroke="#f2ab80" stroke-width="1.4">1909</text>
<text transform="translate(1017.95,549.24) scale(1.0568,1)" font-size="76.33" font-weight="normal" fill="#111" stroke="#f2ab80" stroke-width="1.4">1924</text>
<text transform="translate(1414.35,83.80) scale(0.8681,1)" font-size="86.11" font-weight="bold" fill="#000">B</text>
<text transform="translate(1531.43,82.97) scale(0.9951,1)" font-size="82.86" font-weight="bold" fill="#000">Fire Return Intervals</text>
<line x1="1549.5" y1="135.5" x2="2326.0" y2="135.5" stroke="#8a8a8a" stroke-width="5"/>
<line x1="2324.0" y1="135.5" x2="2324.0" y2="853.0" stroke="#a8a8a8" stroke-width="5"/>
<line x1="1551.5" y1="135.5" x2="1551.5" y2="851.0" stroke="#8a8a8a" stroke-width="5"/>
<line x1="1551.5" y1="216.7" x2="1551.5" y2="768.8" stroke="#1a1a1a" stroke-width="5"/>
<line x1="1549.5" y1="851.0" x2="2326.0" y2="851.0" stroke="#8a8a8a" stroke-width="5"/>
<line x1="1785.6" y1="851.0" x2="2303.0" y2="851.0" stroke="#222" stroke-width="5"/>
<line x1="1510.6" y1="216.7" x2="1551.5" y2="216.7" stroke="#555" stroke-width="4"/>
<line x1="1510.6" y1="354.7" x2="1551.5" y2="354.7" stroke="#555" stroke-width="4"/>
<line x1="1510.6" y1="492.7" x2="1551.5" y2="492.7" stroke="#555" stroke-width="4"/>
<line x1="1510.6" y1="630.7" x2="1551.5" y2="630.7" stroke="#555" stroke-width="4"/>
<line x1="1510.6" y1="768.7" x2="1551.5" y2="768.7" stroke="#555" stroke-width="4"/>
<text transform="translate(1413.14,241.67) scale(1.0251,1)" font-size="83.11" font-weight="normal" fill="#000">25</text>
<text transform="translate(1401.91,384.87) scale(1.0338,1)" font-size="82.97" font-weight="normal" fill="#000">20</text>
<text transform="translate(1410.72,511.54) scale(0.9629,1)" font-size="85.59" font-weight="normal" fill="#000">15</text>
<text transform="translate(1405.73,684.67) scale(0.9874,1)" font-size="83.25" font-weight="normal" fill="#000">10</text>
<text transform="translate(1441.52,785.17) scale(0.9537,1)" font-size="83.44" font-weight="normal" fill="#000">5</text>
<line x1="1785.6" y1="851.0" x2="1785.6" y2="874.0" stroke="#888" stroke-width="4"/>
<line x1="2144.4" y1="851.0" x2="2144.4" y2="874.0" stroke="#888" stroke-width="4"/>
<text transform="translate(1645.68,924.42) scale(1.0059,1)" font-size="57.55" font-weight="bold" fill="#000">Charcoal</text>
<text transform="translate(2023.07,924.42) scale(1.0107,1)" font-size="57.55" font-weight="bold" fill="#000">Red Pine</text>
<line x1="1785.6" y1="271.9" x2="1785.6" y2="284.6" stroke="#8a8a8a" stroke-width="4" stroke-dasharray="4 8"/>
<line x1="1785.6" y1="673.5" x2="1785.6" y2="768.7" stroke="#8a8a8a" stroke-width="4" stroke-dasharray="4 8"/>
<line x1="1648.0" y1="271.9" x2="1922.6" y2="271.9" stroke="#8a8a8a" stroke-width="5"/>
<line x1="1648.0" y1="768.7" x2="1922.6" y2="768.7" stroke="#8a8a8a" stroke-width="5"/>
<rect x="1625.4" y="284.6" width="325.3" height="388.9" fill="#ff2000" stroke="#8c2a2a" stroke-width="4"/>
<line x1="1625.4" y1="396.1" x2="1950.7" y2="396.1" stroke="#000" stroke-width="6"/>
<line x1="2143.5" y1="161.5" x2="2143.5" y2="367.1" stroke="#8a8a8a" stroke-width="4" stroke-dasharray="4 8"/>
<line x1="2143.5" y1="660.2" x2="2143.5" y2="823.9" stroke="#8a8a8a" stroke-width="4" stroke-dasharray="4 8"/>
<line x1="2038.8" y1="161.5" x2="2248.3" y2="161.5" stroke="#8a8a8a" stroke-width="5"/>
<line x1="2038.8" y1="823.9" x2="2248.3" y2="823.9" stroke="#8a8a8a" stroke-width="5"/>
<rect x="2045.8" y="367.1" width="204.2" height="293.1" fill="#996300" stroke="#4a3a24" stroke-width="4"/>
<line x1="2045.8" y1="492.7" x2="2250.0" y2="492.7" stroke="#000" stroke-width="6"/>
<text transform="translate(1706.17,242.26) scale(0.9896,1)" font-size="59.58" font-weight="bold" fill="#000">n=13</text>
<text transform="translate(2100.10,330.60) scale(0.9770,1)" font-size="61.38" font-weight="bold" fill="#000">n=7</text>
<text transform="translate(28.25,1029.25) scale(0.9102,1)" font-size="75.48" font-weight="bold" fill="#000" stroke="#000" stroke-width="2.5">C</text>
<line x1="397.0" y1="977.0" x2="397.0" y2="1536.0" stroke="#ebebeb" stroke-width="3" stroke-dasharray="5 8"/>
<line x1="657.8" y1="977.0" x2="657.8" y2="1536.0" stroke="#ebebeb" stroke-width="3" stroke-dasharray="5 8"/>
<line x1="918.5" y1="977.0" x2="918.5" y2="1536.0" stroke="#ebebeb" stroke-width="3" stroke-dasharray="5 8"/>
<line x1="1179.2" y1="977.0" x2="1179.2" y2="1536.0" stroke="#ebebeb" stroke-width="3" stroke-dasharray="5 8"/>
<line x1="1440.0" y1="977.0" x2="1440.0" y2="1536.0" stroke="#ebebeb" stroke-width="3" stroke-dasharray="5 8"/>
<line x1="1700.8" y1="977.0" x2="1700.8" y2="1536.0" stroke="#ebebeb" stroke-width="3" stroke-dasharray="5 8"/>
<line x1="1961.5" y1="977.0" x2="1961.5" y2="1536.0" stroke="#ebebeb" stroke-width="3" stroke-dasharray="5 8"/>
<line x1="2222.2" y1="977.0" x2="2222.2" y2="1536.0" stroke="#ebebeb" stroke-width="3" stroke-dasharray="5 8"/>
<line x1="357.5" y1="1070.1" x2="2305.0" y2="1070.1" stroke="#ebebeb" stroke-width="3" stroke-dasharray="5 8"/>
<line x1="357.5" y1="1162.7" x2="2305.0" y2="1162.7" stroke="#ebebeb" stroke-width="3" stroke-dasharray="5 8"/>
<line x1="357.5" y1="1347.9" x2="2305.0" y2="1347.9" stroke="#ebebeb" stroke-width="3" stroke-dasharray="5 8"/>
<line x1="357.5" y1="1440.5" x2="2305.0" y2="1440.5" stroke="#ebebeb" stroke-width="3" stroke-dasharray="5 8"/>
<line x1="397.0" y1="977.0" x2="397.0" y2="997.0" stroke="#b8b8b8" stroke-width="4"/>
<line x1="397.0" y1="1536.0" x2="397.0" y2="1516.0" stroke="#b8b8b8" stroke-width="4"/>
<line x1="449.1" y1="977.0" x2="449.1" y2="987.0" stroke="#b8b8b8" stroke-width="4"/>
<line x1="449.1" y1="1536.0" x2="449.1" y2="1526.0" stroke="#b8b8b8" stroke-width="4"/>
<line x1="501.3" y1="977.0" x2="501.3" y2="987.0" stroke="#b8b8b8" stroke-width="4"/>
<line x1="501.3" y1="1536.0" x2="501.3" y2="1526.0" stroke="#b8b8b8" stroke-width="4"/>
<line x1="553.5" y1="977.0" x2="553.5" y2="987.0" stroke="#b8b8b8" stroke-width="4"/>
<line x1="553.5" y1="1536.0" x2="553.5" y2="1526.0" stroke="#b8b8b8" stroke-width="4"/>
<line x1="605.6" y1="977.0" x2="605.6" y2="987.0" stroke="#b8b8b8" stroke-width="4"/>
<line x1="605.6" y1="1536.0" x2="605.6" y2="1526.0" stroke="#b8b8b8" stroke-width="4"/>
<line x1="657.8" y1="977.0" x2="657.8" y2="997.0" stroke="#b8b8b8" stroke-width="4"/>
<line x1="657.8" y1="1536.0" x2="657.8" y2="1516.0" stroke="#b8b8b8" stroke-width="4"/>
<line x1="709.9" y1="977.0" x2="709.9" y2="987.0" stroke="#b8b8b8" stroke-width="4"/>
<line x1="709.9" y1="1536.0" x2="709.9" y2="1526.0" stroke="#b8b8b8" stroke-width="4"/>
<line x1="762.0" y1="977.0" x2="762.0" y2="987.0" stroke="#b8b8b8" stroke-width="4"/>
<line x1="762.0" y1="1536.0" x2="762.0" y2="1526.0" stroke="#b8b8b8" stroke-width="4"/>
<line x1="814.2" y1="977.0" x2="814.2" y2="987.0" stroke="#b8b8b8" stroke-width="4"/>
<line x1="814.2" y1="1536.0" x2="814.2" y2="1526.0" stroke="#b8b8b8" stroke-width="4"/>
<line x1="866.3" y1="977.0" x2="866.3" y2="987.0" stroke="#b8b8b8" stroke-width="4"/>
<line x1="866.3" y1="1536.0" x2="866.3" y2="1526.0" stroke="#b8b8b8" stroke-width="4"/>
<line x1="918.5" y1="977.0" x2="918.5" y2="997.0" stroke="#b8b8b8" stroke-width="4"/>
<line x1="918.5" y1="1536.0" x2="918.5" y2="1516.0" stroke="#b8b8b8" stroke-width="4"/>
<line x1="970.6" y1="977.0" x2="970.6" y2="987.0" stroke="#b8b8b8" stroke-width="4"/>
<line x1="970.6" y1="1536.0" x2="970.6" y2="1526.0" stroke="#b8b8b8" stroke-width="4"/>
<line x1="1022.8" y1="977.0" x2="1022.8" y2="987.0" stroke="#b8b8b8" stroke-width="4"/>
<line x1="1022.8" y1="1536.0" x2="1022.8" y2="1526.0" stroke="#b8b8b8" stroke-width="4"/>
<line x1="1074.9" y1="977.0" x2="1074.9" y2="987.0" stroke="#b8b8b8" stroke-width="4"/>
<line x1="1074.9" y1="1536.0" x2="1074.9" y2="1526.0" stroke="#b8b8b8" stroke-width="4"/>
<line x1="1127.1" y1="977.0" x2="1127.1" y2="987.0" stroke="#b8b8b8" stroke-width="4"/>
<line x1="1127.1" y1="1536.0" x2="1127.1" y2="1526.0" stroke="#b8b8b8" stroke-width="4"/>
<line x1="1179.2" y1="977.0" x2="1179.2" y2="997.0" stroke="#b8b8b8" stroke-width="4"/>
<line x1="1179.2" y1="1536.0" x2="1179.2" y2="1516.0" stroke="#b8b8b8" stroke-width="4"/>
<line x1="1231.4" y1="977.0" x2="1231.4" y2="987.0" stroke="#b8b8b8" stroke-width="4"/>
<line x1="1231.4" y1="1536.0" x2="1231.4" y2="1526.0" stroke="#b8b8b8" stroke-width="4"/>
<line x1="1283.5" y1="977.0" x2="1283.5" y2="987.0" stroke="#b8b8b8" stroke-width="4"/>
<line x1="1283.5" y1="1536.0" x2="1283.5" y2="1526.0" stroke="#b8b8b8" stroke-width="4"/>
<line x1="1335.7" y1="977.0" x2="1335.7" y2="987.0" stroke="#b8b8b8" stroke-width="4"/>
<line x1="1335.7" y1="1536.0" x2="1335.7" y2="1526.0" stroke="#b8b8b8" stroke-width="4"/>
<line x1="1387.8" y1="977.0" x2="1387.8" y2="987.0" stroke="#b8b8b8" stroke-width="4"/>
<line x1="1387.8" y1="1536.0" x2="1387.8" y2="1526.0" stroke="#b8b8b8" stroke-width="4"/>
<line x1="1440.0" y1="977.0" x2="1440.0" y2="997.0" stroke="#b8b8b8" stroke-width="4"/>
<line x1="1440.0" y1="1536.0" x2="1440.0" y2="1516.0" stroke="#b8b8b8" stroke-width="4"/>
<line x1="1492.1" y1="977.0" x2="1492.1" y2="987.0" stroke="#b8b8b8" stroke-width="4"/>
<line x1="1492.1" y1="1536.0" x2="1492.1" y2="1526.0" stroke="#b8b8b8" stroke-width="4"/>
<line x1="1544.3" y1="977.0" x2="1544.3" y2="987.0" stroke="#b8b8b8" stroke-width="4"/>
<line x1="1544.3" y1="1536.0" x2="1544.3" y2="1526.0" stroke="#b8b8b8" stroke-width="4"/>
<line x1="1596.5" y1="977.0" x2="1596.5" y2="987.0" stroke="#b8b8b8" stroke-width="4"/>
<line x1="1596.5" y1="1536.0" x2="1596.5" y2="1526.0" stroke="#b8b8b8" stroke-width="4"/>
<line x1="1648.6" y1="977.0" x2="1648.6" y2="987.0" stroke="#b8b8b8" stroke-width="4"/>
<line x1="1648.6" y1="1536.0" x2="1648.6" y2="1526.0" stroke="#b8b8b8" stroke-width="4"/>
<line x1="1700.8" y1="977.0" x2="1700.8" y2="997.0" stroke="#b8b8b8" stroke-width="4"/>
<line x1="1700.8" y1="1536.0" x2="1700.8" y2="1516.0" stroke="#b8b8b8" stroke-width="4"/>
<line x1="1752.9" y1="977.0" x2="1752.9" y2="987.0" stroke="#b8b8b8" stroke-width="4"/>
<line x1="1752.9" y1="1536.0" x2="1752.9" y2="1526.0" stroke="#b8b8b8" stroke-width="4"/>
<line x1="1805.0" y1="977.0" x2="1805.0" y2="987.0" stroke="#b8b8b8" stroke-width="4"/>
<line x1="1805.0" y1="1536.0" x2="1805.0" y2="1526.0" stroke="#b8b8b8" stroke-width="4"/>
<line x1="1857.2" y1="977.0" x2="1857.2" y2="987.0" stroke="#b8b8b8" stroke-width="4"/>
<line x1="1857.2" y1="1536.0" x2="1857.2" y2="1526.0" stroke="#b8b8b8" stroke-width="4"/>
<line x1="1909.3" y1="977.0" x2="1909.3" y2="987.0" stroke="#b8b8b8" stroke-width="4"/>
<line x1="1909.3" y1="1536.0" x2="1909.3" y2="1526.0" stroke="#b8b8b8" stroke-width="4"/>
<line x1="1961.5" y1="977.0" x2="1961.5" y2="997.0" stroke="#b8b8b8" stroke-width="4"/>
<line x1="1961.5" y1="1536.0" x2="1961.5" y2="1516.0" stroke="#b8b8b8" stroke-width="4"/>
<line x1="2013.6" y1="977.0" x2="2013.6" y2="987.0" stroke="#b8b8b8" stroke-width="4"/>
<line x1="2013.6" y1="1536.0" x2="2013.6" y2="1526.0" stroke="#b8b8b8" stroke-width="4"/>
<line x1="2065.8" y1="977.0" x2="2065.8" y2="987.0" stroke="#b8b8b8" stroke-width="4"/>
<line x1="2065.8" y1="1536.0" x2="2065.8" y2="1526.0" stroke="#b8b8b8" stroke-width="4"/>
<line x1="2117.9" y1="977.0" x2="2117.9" y2="987.0" stroke="#b8b8b8" stroke-width="4"/>
<line x1="2117.9" y1="1536.0" x2="2117.9" y2="1526.0" stroke="#b8b8b8" stroke-width="4"/>
<line x1="2170.1" y1="977.0" x2="2170.1" y2="987.0" stroke="#b8b8b8" stroke-width="4"/>
<line x1="2170.1" y1="1536.0" x2="2170.1" y2="1526.0" stroke="#b8b8b8" stroke-width="4"/>
<line x1="2222.2" y1="977.0" x2="2222.2" y2="997.0" stroke="#b8b8b8" stroke-width="4"/>
<line x1="2222.2" y1="1536.0" x2="2222.2" y2="1516.0" stroke="#b8b8b8" stroke-width="4"/>
<line x1="2274.4" y1="977.0" x2="2274.4" y2="987.0" stroke="#b8b8b8" stroke-width="4"/>
<line x1="2274.4" y1="1536.0" x2="2274.4" y2="1526.0" stroke="#b8b8b8" stroke-width="4"/>
<line x1="357.5" y1="1533.1" x2="367.5" y2="1533.1" stroke="#b5b5b5" stroke-width="3"/>
<line x1="357.5" y1="1509.9" x2="367.5" y2="1509.9" stroke="#b5b5b5" stroke-width="3"/>
<line x1="357.5" y1="1486.8" x2="367.5" y2="1486.8" stroke="#b5b5b5" stroke-width="3"/>
<line x1="357.5" y1="1463.6" x2="367.5" y2="1463.6" stroke="#b5b5b5" stroke-width="3"/>
<line x1="357.5" y1="1440.5" x2="367.5" y2="1440.5" stroke="#b5b5b5" stroke-width="3"/>
<line x1="357.5" y1="1417.3" x2="367.5" y2="1417.3" stroke="#b5b5b5" stroke-width="3"/>
<line x1="357.5" y1="1394.2" x2="367.5" y2="1394.2" stroke="#b5b5b5" stroke-width="3"/>
<line x1="357.5" y1="1371.0" x2="367.5" y2="1371.0" stroke="#b5b5b5" stroke-width="3"/>
<line x1="357.5" y1="1347.9" x2="367.5" y2="1347.9" stroke="#b5b5b5" stroke-width="3"/>
<line x1="357.5" y1="1324.8" x2="367.5" y2="1324.8" stroke="#b5b5b5" stroke-width="3"/>
<line x1="357.5" y1="1301.6" x2="367.5" y2="1301.6" stroke="#b5b5b5" stroke-width="3"/>
<line x1="357.5" y1="1278.5" x2="367.5" y2="1278.5" stroke="#b5b5b5" stroke-width="3"/>
<line x1="357.5" y1="1255.3" x2="367.5" y2="1255.3" stroke="#b5b5b5" stroke-width="3"/>
<line x1="357.5" y1="1232.1" x2="367.5" y2="1232.1" stroke="#b5b5b5" stroke-width="3"/>
<line x1="357.5" y1="1209.0" x2="367.5" y2="1209.0" stroke="#b5b5b5" stroke-width="3"/>
<line x1="357.5" y1="1185.8" x2="367.5" y2="1185.8" stroke="#b5b5b5" stroke-width="3"/>
<line x1="357.5" y1="1162.7" x2="367.5" y2="1162.7" stroke="#b5b5b5" stroke-width="3"/>
<line x1="357.5" y1="1139.5" x2="367.5" y2="1139.5" stroke="#b5b5b5" stroke-width="3"/>
<line x1="357.5" y1="1116.4" x2="367.5" y2="1116.4" stroke="#b5b5b5" stroke-width="3"/>
<line x1="357.5" y1="1093.2" x2="367.5" y2="1093.2" stroke="#b5b5b5" stroke-width="3"/>
<line x1="357.5" y1="1070.1" x2="367.5" y2="1070.1" stroke="#b5b5b5" stroke-width="3"/>
<line x1="357.5" y1="1047.0" x2="367.5" y2="1047.0" stroke="#b5b5b5" stroke-width="3"/>
<line x1="357.5" y1="1023.8" x2="367.5" y2="1023.8" stroke="#b5b5b5" stroke-width="3"/>
<line x1="357.5" y1="1000.6" x2="367.5" y2="1000.6" stroke="#b5b5b5" stroke-width="3"/>
<line x1="357.5" y1="977.5" x2="367.5" y2="977.5" stroke="#b5b5b5" stroke-width="3"/>
<rect x="357.5" y="977.0" width="1947.5" height="559.0" fill="none" stroke="#c2c2c2" stroke-width="5"/>
<line x1="357.5" y1="1255.3" x2="2305.0" y2="1255.3" stroke="#7a7a7a" stroke-width="6"/>
<polyline points="350.1,1232.7 355.3,1278.7 360.5,1200.4 365.7,1291.4 370.9,1387.9 376.1,1335.3 381.4,1193.7 386.6,1334.1 391.8,1214.7 397.0,1187.4 402.2,1243.8 407.4,1213.7 412.6,1153.0 417.9,1226.2 423.1,1241.0 428.3,1291.5 433.5,1255.2 438.7,1286.4 443.9,1279.3 449.1,1266.5 454.4,1280.7 459.6,1328.1 464.8,1336.6 470.0,1462.0 475.2,1355.5 480.4,1299.0 485.7,1250.6 490.9,1363.5 496.1,1363.2 501.3,1310.4 506.5,1310.1 511.7,1256.6 516.9,1232.6 522.2,1232.5 527.4,1131.3 532.6,1230.4 537.8,1139.1 543.0,1111.8 548.2,1115.0 553.5,1245.6 558.7,1238.5 563.9,1246.8 569.1,1253.4 574.3,1256.5 579.5,1273.2 584.7,1262.4 590.0,1281.0 595.2,1192.8 600.4,1217.2 605.6,1375.1 610.8,1265.0 616.0,1255.8 621.2,1163.8 626.5,1033.0 631.7,1171.8 636.9,1271.1 642.1,1236.5 647.3,1306.1 652.5,1348.1 657.8,1242.3 663.0,1200.7 668.2,1255.7 673.4,1232.5 678.6,1226.2 683.8,1208.3 689.0,1247.8 694.3,1292.0 699.5,1266.6 704.7,1230.4 709.9,1222.9 715.1,1214.6 720.3,1231.1 725.5,1133.4 730.8,1237.0 736.0,1220.0 741.2,1396.0 746.4,1385.5 751.6,1332.6 756.8,1298.9 762.0,1150.0 767.3,1317.9 772.5,1220.7 777.7,1274.9 782.9,1279.0 788.1,1197.4 793.3,1224.3 798.6,1370.0 803.8,1140.3 809.0,1203.5 814.2,1294.6 819.4,1248.6 824.6,1236.4 829.8,1295.9 835.1,1273.9 840.3,1336.2 845.5,1301.7 850.7,1320.2 855.9,1333.7 861.1,1331.1 866.3,1281.5 871.6,1369.9 876.8,1353.6 882.0,1318.4 887.2,1244.4 892.4,1215.8 897.6,1248.5 902.9,1107.1 908.1,1279.6 913.3,1198.2 918.5,1215.1 923.7,1257.4 928.9,1283.1 934.1,1188.5 939.4,1318.4 944.6,1299.3 949.8,1240.3 955.0,1184.2 960.2,1281.6 965.4,1241.4 970.6,1255.5 975.9,1204.8 981.1,1237.7 986.3,1167.3 991.5,1214.5 996.7,1110.8 1001.9,1219.3 1007.2,1177.6 1012.4,1202.5 1017.6,1357.1 1022.8,1278.3 1028.0,1311.8 1033.2,1281.9 1038.4,1205.3 1043.7,1285.6 1048.9,1271.3 1054.1,1258.4 1059.3,1151.0 1064.5,1168.7 1069.7,1154.2 1074.9,1158.1 1080.2,1147.4 1085.4,1209.1 1090.6,1184.3 1095.8,1151.3 1101.0,1152.6 1106.2,1180.3 1111.5,1309.9 1116.7,1293.5 1121.9,1327.6 1127.1,1313.2 1132.3,1390.0 1137.5,1365.0 1142.7,1324.3 1148.0,1178.5 1153.2,1207.9 1158.4,1273.8 1163.6,1148.0 1168.8,1309.4 1174.0,1298.5 1179.2,1337.1 1184.5,1187.2 1189.7,1228.2 1194.9,1175.2 1200.1,1210.5 1205.3,1297.2 1210.5,1171.9 1215.8,1378.0 1221.0,1334.3 1226.2,1236.2 1231.4,1332.9 1236.6,1326.5 1241.8,1327.0 1247.0,1265.7 1252.3,1257.3 1257.5,1327.0 1262.7,1309.6 1267.9,1417.2 1273.1,1351.0 1278.3,1302.6 1283.5,1462.0 1288.8,1330.0 1294.0,1333.6 1299.2,1328.6 1304.4,1295.0 1309.6,1260.6 1314.8,1291.6 1320.1,1224.2 1325.3,1230.5 1330.5,1396.0 1335.7,1216.2 1340.9,1205.7 1346.1,1245.5 1351.3,1168.1 1356.6,1053.0 1361.8,1117.8 1367.0,1207.8 1372.2,1187.0 1377.4,1330.6 1382.6,1252.0 1387.8,1344.5 1393.1,1354.2 1398.3,1335.9 1403.5,1328.9 1408.7,1298.9 1413.9,1257.3 1419.1,1287.6 1424.4,1268.9 1429.6,1266.0 1434.8,1271.8 1440.0,1213.4 1445.2,1208.4 1450.4,1378.0 1455.6,1213.6 1460.9,1271.5 1466.1,1327.0 1471.3,1266.3 1476.5,1267.6 1481.7,1259.7 1486.9,1219.7 1492.1,1244.5 1497.4,1270.7 1502.6,1233.0 1507.8,1344.2 1513.0,1338.5 1518.2,1406.3 1523.4,1115.0 1528.7,1307.9 1533.9,1242.0 1539.1,1235.2 1544.3,1301.6 1549.5,1237.8 1554.7,1266.2 1559.9,1310.1 1565.2,1320.1 1570.4,1358.0 1575.6,1332.8 1580.8,1228.6 1586.0,1158.0 1591.2,1236.8 1596.5,1156.3 1601.7,1200.6 1606.9,1193.2 1612.1,1235.5 1617.3,1228.9 1622.5,1221.0 1627.7,1145.7 1633.0,1203.6 1638.2,1386.0 1643.4,1240.9 1648.6,1249.2 1653.8,1267.6 1659.0,1216.1 1664.2,1311.0 1669.5,1300.4 1674.7,1115.0 1679.9,1230.2 1685.1,1215.2 1690.3,1218.9 1695.5,1376.1 1700.8,1190.8 1706.0,1235.1 1711.2,1125.0 1716.4,1196.8 1721.6,1249.3 1726.8,1194.9 1732.0,1243.9 1737.3,1219.1 1742.5,1375.0 1747.7,1269.3 1752.9,1434.2 1758.1,1331.0 1763.3,1278.3 1768.5,1272.0 1773.8,1250.3 1779.0,1170.0 1784.2,1211.0 1789.4,1271.0 1794.6,1205.7 1799.8,1224.0 1805.0,1292.9 1810.3,1248.0 1815.5,1331.4 1820.7,1325.0 1825.9,1298.7 1831.1,1246.1 1836.3,1263.1 1841.6,1160.6 1846.8,1285.5 1852.0,1176.1 1857.2,1198.9 1862.4,1115.0 1867.6,1303.8 1872.8,1325.3 1878.1,1430.0 1883.3,1346.9 1888.5,1321.8 1893.7,1306.0 1898.9,1372.7 1904.1,1290.7 1909.3,1262.9 1914.6,1279.5 1919.8,1260.2 1925.0,1185.1 1930.2,1193.7 1935.4,1062.0 1940.6,1198.3 1945.9,1190.4 1951.1,1237.1 1956.3,1165.0 1961.5,1199.0 1966.7,1183.8 1971.9,1236.5 1977.1,1125.0 1982.4,1257.2 1987.6,1209.3 1992.8,1278.7 1998.0,1400.0 2003.2,1331.5 2008.4,1371.6 2013.6,1254.7 2018.9,1140.0 2024.1,1276.3 2029.3,1245.7 2034.5,1236.0 2039.7,1260.0 2044.9,1168.7 2050.2,1255.2 2055.4,1259.7 2060.6,1330.0 2065.8,1240.7 2071.0,1165.4 2076.2,1254.8 2081.4,1140.0 2086.7,1300.8 2091.9,1244.5 2097.1,1252.3 2102.3,1255.6 2107.5,1259.7 2112.7,1229.2 2117.9,1273.7 2123.2,1219.7 2128.4,1262.9 2133.6,1248.5 2138.8,1192.0 2144.0,1282.0 2149.2,1222.1 2154.5,1218.3 2159.7,1420.0 2164.9,1248.2 2170.1,1136.1 2175.3,1237.2 2180.5,1270.0 2185.7,1241.6 2191.0,1167.5 2196.2,1259.6 2201.4,1223.5 2206.6,1150.0 2211.8,1283.1 2217.0,1194.9 2222.2,1214.3 2227.5,1120.3 2232.7,1134.5 2237.9,1255.9" fill="none" stroke="#ff4646" stroke-width="3.4" stroke-linejoin="round" stroke-opacity="0.72"/>
<polyline points="356.3,1241.9 367.6,1310.6 376.4,1317.6 385.2,1310.6 395.8,1254.2 411.6,1201.4 424.0,1222.5 434.5,1286.0 448.6,1300.0 459.0,1317.6 473.2,1359.9 485.6,1356.3 497.9,1303.5 515.5,1271.8 526.0,1240.0 540.0,1201.4 550.7,1205.0 564.8,1233.0 582.4,1240.0 600.0,1264.8 610.6,1254.2 624.6,1197.9 633.5,1205.0 645.8,1321.1 659.9,1271.8 670.4,1222.5 679.2,1215.5 688.0,1226.0 702.0,1250.7 723.2,1212.0 733.8,1222.5 747.9,1307.0 760.2,1307.0 786.6,1212.0 800.7,1190.8 807.7,1194.4 825.4,1233.0 833.5,1278.9 842.3,1310.6 851.1,1312.3 861.7,1308.8 874.0,1328.2 881.0,1324.6 891.6,1257.7 896.9,1194.4 904.0,1175.0 912.7,1182.0 923.3,1215.5 933.9,1241.9 946.2,1249.0 962.0,1252.5 976.1,1208.5 992.0,1182.0 1006.0,1180.3 1016.6,1219.0 1027.2,1317.6 1036.0,1331.7 1044.8,1303.5 1055.4,1219.0 1066.0,1187.3 1076.5,1185.6 1087.0,1197.9 1097.6,1226.0 1111.7,1254.2 1125.8,1289.4 1132.8,1289.4 1139.9,1261.3 1148.7,1240.0 1155.7,1242.0 1164.5,1264.8 1173.3,1289.4 1180.4,1275.4 1190.9,1236.6 1198.0,1236.6 1208.5,1257.7 1220.9,1303.5 1227.9,1307.0 1242.0,1261.3 1250.8,1250.7 1257.8,1250.7 1266.6,1289.4 1277.2,1331.7 1284.2,1345.8 1291.3,1324.6 1301.8,1286.0 1315.9,1261.3 1324.0,1233.0 1336.4,1208.5 1347.0,1166.2 1354.0,1143.3 1361.0,1146.8 1369.9,1197.9 1375.1,1257.7 1382.2,1307.0 1391.0,1307.0 1405.0,1264.8 1419.2,1261.3 1429.7,1233.0 1440.3,1220.8 1450.8,1247.2 1464.9,1271.8 1479.0,1257.7 1489.6,1257.7 1500.1,1296.5 1512.5,1340.5 1521.3,1340.5 1535.4,1303.5 1553.0,1303.5 1567.0,1312.3 1577.6,1285.9 1588.2,1222.5 1605.8,1203.2 1619.9,1219.0 1632.2,1257.7 1648.0,1259.5 1662.1,1282.4 1670.9,1291.2 1679.7,1257.7 1688.5,1217.3 1704.4,1197.9 1722.0,1164.4 1730.8,1169.7 1739.6,1212.0 1750.2,1275.4 1757.2,1291.2 1764.2,1275.4 1773.0,1226.0 1783.6,1208.5 1794.2,1229.6 1806.5,1272.0 1819.3,1273.4 1830.3,1247.7 1843.1,1220.3 1850.4,1222.1 1859.6,1269.7 1866.9,1313.7 1876.0,1330.1 1888.9,1330.1 1903.5,1310.0 1916.3,1262.4 1925.5,1207.5 1934.6,1180.0 1943.8,1189.2 1953.0,1233.1 1960.3,1233.1 1971.3,1213.0 1980.4,1225.8 1989.6,1269.7 2000.6,1304.5 2009.7,1304.5 2020.7,1277.0 2029.9,1244.1 2040.8,1225.8 2053.7,1244.1 2066.5,1262.4 2075.6,1244.1 2086.6,1220.3 2095.8,1229.4 2104.9,1251.4 2112.2,1249.6 2125.1,1229.4 2136.0,1214.8 2145.2,1229.4 2152.5,1266.0 2161.7,1295.3 2170.8,1277.0 2178.2,1244.1 2187.3,1220.3 2196.5,1229.4 2205.6,1229.4 2216.6,1218.4 2227.6,1209.3 2238.6,1211.1" fill="none" stroke="#000" stroke-width="4.2" stroke-linejoin="round"/>
<text transform="translate(292.06,979.00) scale(1.1717,1)" font-size="39.86" font-weight="normal" fill="#444">6</text>
<text transform="translate(293.44,1072.30) scale(0.9868,1)" font-size="43.35" font-weight="normal" fill="#444">4</text>
<text transform="translate(292.03,1166.50) scale(1.0856,1)" font-size="43.73" font-weight="normal" fill="#444">2</text>
<text transform="translate(292.59,1257.55) scale(1.0001,1)" font-size="45.23" font-weight="normal" fill="#444">0</text>
<text transform="translate(275.84,1358.60) scale(1.0930,1)" font-size="43.87" font-weight="normal" fill="#444">-2</text>
<text transform="translate(275.90,1446.60) scale(1.0476,1)" font-size="44.51" font-weight="normal" fill="#444">-4</text>
<text transform="translate(275.86,1534.27) scale(1.0947,1)" font-size="43.39" font-weight="normal" fill="#444">-6</text>
<text transform="translate(134.83,1034.51) scale(1.1196,1)" font-size="59.18" font-weight="normal" fill="#000">Moist</text>
<text transform="translate(161.48,1553.75) scale(1.0295,1)" font-size="61.45" font-weight="normal" fill="#000">Dry</text>
<text transform="translate(155.33,1426.88) rotate(-90) scale(1.0224,1)" font-size="77.03" font-weight="normal" fill="#000">JJA PDSI</text>
<line x1="214.4" y1="1105.0" x2="214.4" y2="1430.0" stroke="#000" stroke-width="7"/>
<polygon points="214.4,1052.8 252.3,1121.0 214.4,1109.0 179.0,1121.0" fill="#000"/>
<polygon points="214.4,1485.8 252.3,1418.0 214.4,1430.0 179.0,1418.0" fill="#000"/>
<text transform="translate(340.86,1612.17) scale(0.9910,1)" font-size="82.54" font-weight="normal" fill="#000">1650</text>
<text transform="translate(601.36,1612.17) scale(0.9910,1)" font-size="82.54" font-weight="normal" fill="#000">1700</text>
<text transform="translate(861.86,1612.17) scale(0.9910,1)" font-size="82.54" font-weight="normal" fill="#000">1750</text>
<text transform="translate(1122.36,1612.17) scale(0.9910,1)" font-size="82.54" font-weight="normal" fill="#000">1800</text>
<text transform="translate(1382.86,1612.17) scale(0.9910,1)" font-size="82.54" font-weight="normal" fill="#000">1850</text>
<text transform="translate(1643.36,1612.17) scale(0.9910,1)" font-size="82.54" font-weight="normal" fill="#000">1900</text>
<text transform="translate(1903.86,1612.17) scale(0.9910,1)" font-size="82.54" font-weight="normal" fill="#000">1950</text>
<text transform="translate(2166.46,1612.17) scale(0.9794,1)" font-size="82.54" font-weight="normal" fill="#000">2000</text>
<text transform="translate(534.14,1485.63) scale(1.0328,1)" font-size="69.28" font-weight="bold" fill="#000">CCESR Fire History</text>
<line x1="1224.0" y1="1466.0" x2="2278.0" y2="1466.0" stroke="#8e8e8e" stroke-width="7"/>
<line x1="1224.0" y1="1458.0" x2="1224.0" y2="1474.0" stroke="#444" stroke-width="3"/>
<line x1="2278.0" y1="1456.0" x2="2278.0" y2="1476.0" stroke="#222" stroke-width="4"/>
<polygon points="1291.7,1451.0 1304.7,1466.0 1291.7,1481.0 1278.7,1466.0" fill="#000" stroke="#000" stroke-width="2" stroke-linejoin="round"/>
<polygon points="1397.2,1451.0 1410.2,1466.0 1397.2,1481.0 1384.2,1466.0" fill="#000" stroke="#000" stroke-width="2" stroke-linejoin="round"/>
<polygon points="1434.6,1451.0 1447.6,1466.0 1434.6,1481.0 1421.6,1466.0" fill="#000" stroke="#000" stroke-width="2" stroke-linejoin="round"/>
<polygon points="1493.8,1451.0 1506.8,1466.0 1493.8,1481.0 1480.8,1466.0" fill="#000" stroke="#000" stroke-width="2" stroke-linejoin="round"/>
<polygon points="1589.4,1451.0 1602.4,1466.0 1589.4,1481.0 1576.4,1466.0" fill="#000" stroke="#000" stroke-width="2" stroke-linejoin="round"/>
<polygon points="1609.0,1451.0 1622.0,1466.0 1609.0,1481.0 1596.0,1466.0" fill="#000" stroke="#000" stroke-width="2" stroke-linejoin="round"/>
<polygon points="1750.0,1451.0 1763.0,1466.0 1750.0,1481.0 1737.0,1466.0" fill="#000" stroke="#000" stroke-width="2" stroke-linejoin="round"/>
<polygon points="1829.0,1451.0 1842.0,1466.0 1829.0,1481.0 1816.0,1466.0" fill="#000" stroke="#000" stroke-width="2" stroke-linejoin="round"/>
<text transform="translate(28.43,1699.00) scale(1.1809,1)" font-size="69.82" font-weight="bold" fill="#000" stroke="#000" stroke-width="2.5">D</text>
<polygon points="390.6,2196.4 458.5,2288.6 520.1,2334.9 582.8,2282.4 646.2,2293.1 704.3,2233.0 759.6,2305.2 818.5,2202.0 869.7,2265.5 921.5,1917.1 971.5,2244.9 1019.4,2226.7 1066.5,2237.3 1109.2,2173.7 1152.8,2183.2 1191.9,2330.8 1226.8,2194.9 1263.0,2174.9 1328.9,2128.8 1356.5,2172.3 1383.8,2067.5 1407.7,2116.5 1432.5,2099.3 1450.0,2211.6 1474.5,2258.0 1493.7,2248.2 1514.8,2296.3 1532.3,2250.1 1552.8,2183.4 1569.7,2259.7 1588.0,2155.0 1603.5,2020.7 1619.9,2002.3 1636.0,2175.0 1647.9,2118.6 1659.0,2127.0 1669.0,2105.8 1678.9,2030.3 1691.5,2132.7 1705.6,2210.1 1718.3,2249.6 1728.0,2262.0 1736.6,2273.4 1749.3,2011.0 1762.0,2139.7 1769.0,2036.9 1780.3,2238.2 1791.5,2082.0 1804.2,1970.6 1816.9,2046.6 1828.2,1952.1 1843.7,1845.3 1859.2,1962.1 1871.8,1991.8 1887.3,1811.1 1901.4,2101.7 1915.5,1918.5 1932.4,1900.0 1949.3,1890.1 1969.0,1883.9 1988.7,1853.2 1996.5,1807.8 2016.2,1836.2 2033.1,1834.8 2051.4,1852.7 2068.3,1844.2 2088.0,1872.8 2103.5,1841.8 2119.0,1851.8 2134.5,1927.7 2145.8,1836.0 2158.5,2217.5 2169.7,2049.3 2181.0,1813.5 2189.4,1797.7 2200.7,1771.3 2210.6,1840.1 2220.0,1832.0 2227.5,1834.6 2227.5,2224.6 2220.0,2142.0 2210.6,2089.1 2200.7,1991.3 2189.4,2017.7 2181.0,2103.5 2169.7,2319.3 2158.5,2444.5 2145.8,2013.0 2134.5,2106.7 2119.0,1971.8 2103.5,1955.8 2088.0,1976.8 2068.3,1948.2 2051.4,1962.7 2033.1,1946.8 2016.2,1951.2 1996.5,1928.8 1988.7,1948.2 1969.0,2003.9 1949.3,2020.1 1932.4,2040.0 1915.5,2048.5 1901.4,2458.7 1887.3,2032.1 1871.8,2191.8 1859.2,2112.1 1843.7,2040.3 1828.2,2112.1 1816.9,2186.6 1804.2,2120.6 1791.5,2212.0 1780.3,2363.2 1769.0,2186.9 1762.0,2294.7 1749.3,2163.0 1736.6,2383.4 1728.0,2382.0 1718.3,2379.6 1705.6,2395.1 1691.5,2282.7 1678.9,2178.3 1669.0,2255.8 1659.0,2247.0 1647.9,2258.6 1636.0,2295.0 1619.9,2208.3 1603.5,2180.7 1588.0,2336.0 1569.7,2360.7 1552.8,2330.4 1532.3,2392.1 1514.8,2392.3 1493.7,2369.2 1474.5,2454.0 1450.0,2397.6 1432.5,2265.3 1407.7,2239.5 1383.8,2346.5 1356.5,2321.3 1328.9,2335.8 1263.0,2307.9 1226.8,2330.9 1191.9,2453.8 1152.8,2336.2 1109.2,2330.7 1066.5,2348.3 1019.4,2323.7 971.5,2316.9 921.5,2137.1 869.7,2409.5 818.5,2347.0 759.6,2404.2 704.3,2364.0 646.2,2464.1 582.8,2406.4 520.1,2429.9 458.5,2455.6 390.6,2427.4" fill="#9d9d9d"/>
<line x1="335.0" y1="2150.4" x2="2327.5" y2="2150.4" stroke="#00902e" stroke-width="6"/>
<line x1="335.0" y1="2150.4" x2="2327.5" y2="2150.4" stroke="#00902e" stroke-width="11" stroke-opacity="0.3"/>
<path d="M388.0,2367.0 C406.7,2364.2 456.3,2356.5 500.0,2350.0 C543.7,2343.5 600.0,2335.3 650.0,2328.0 C700.0,2320.7 741.7,2312.2 800.0,2306.0 C858.3,2299.8 941.7,2294.3 1000.0,2291.0 C1058.3,2287.7 1108.3,2286.8 1150.0,2286.0 C1191.7,2285.2 1216.7,2287.0 1250.0,2286.3 C1283.3,2285.6 1317.2,2284.6 1350.0,2282.0 C1382.8,2279.4 1416.7,2276.2 1447.0,2271.0 C1477.3,2265.8 1506.2,2257.7 1531.7,2251.0 C1557.2,2244.3 1580.3,2238.7 1600.0,2230.7 C1619.7,2222.7 1633.3,2212.1 1650.0,2203.0 C1666.7,2193.9 1685.8,2184.5 1700.0,2176.0 C1714.2,2167.5 1723.3,2160.8 1735.0,2151.8 C1746.7,2142.8 1759.7,2131.4 1770.0,2122.0 C1780.3,2112.6 1787.8,2104.2 1797.0,2095.5 C1806.2,2086.8 1815.6,2078.0 1825.0,2070.0 C1834.4,2062.0 1844.3,2054.3 1853.5,2047.6 C1862.7,2040.9 1870.6,2035.6 1880.0,2030.0 C1889.4,2024.4 1898.2,2019.8 1909.9,2013.8 C1921.6,2007.8 1933.9,2000.6 1950.0,1994.0 C1966.1,1987.4 1991.3,1978.4 2006.3,1974.1 C2021.3,1969.8 2027.8,1969.7 2040.0,1968.0 C2052.2,1966.3 2067.9,1965.0 2079.6,1964.2 C2091.3,1963.5 2098.7,1963.3 2110.0,1963.5 C2121.3,1963.7 2133.5,1963.4 2147.2,1965.6 C2160.9,1967.8 2178.9,1972.9 2192.3,1976.9 C2205.7,1980.9 2221.6,1987.5 2227.5,1989.6" fill="none" stroke="#1a5fff" stroke-width="7"/>
<circle cx="390.6" cy="2307.4" r="10.5" fill="#000"/>
<circle cx="458.5" cy="2379.6" r="10.5" fill="#000"/>
<circle cx="520.1" cy="2397.9" r="10.5" fill="#000"/>
<circle cx="582.8" cy="2344.4" r="10.5" fill="#000"/>
<circle cx="646.2" cy="2383.1" r="10.5" fill="#000"/>
<circle cx="704.3" cy="2295.0" r="10.5" fill="#000"/>
<circle cx="759.6" cy="2360.2" r="10.5" fill="#000"/>
<circle cx="818.5" cy="2273.0" r="10.5" fill="#000"/>
<circle cx="869.7" cy="2339.5" r="10.5" fill="#000"/>
<circle cx="921.5" cy="2020.1" r="10.5" fill="#000"/>
<circle cx="971.5" cy="2277.9" r="10.5" fill="#000"/>
<circle cx="1019.4" cy="2273.7" r="10.5" fill="#000"/>
<circle cx="1066.5" cy="2297.3" r="10.5" fill="#000"/>
<circle cx="1109.2" cy="2249.7" r="10.5" fill="#000"/>
<circle cx="1152.8" cy="2259.2" r="10.5" fill="#000"/>
<circle cx="1191.9" cy="2394.8" r="10.5" fill="#000"/>
<circle cx="1226.8" cy="2264.9" r="10.5" fill="#000"/>
<circle cx="1263.0" cy="2239.9" r="10.5" fill="#000"/>
<circle cx="1328.9" cy="2232.8" r="10.5" fill="#000"/>
<circle cx="1356.5" cy="2248.3" r="10.5" fill="#000"/>
<circle cx="1383.8" cy="2207.5" r="10.5" fill="#000"/>
<circle cx="1407.7" cy="2176.5" r="10.5" fill="#000"/>
<circle cx="1432.5" cy="2186.3" r="10.5" fill="#000"/>
<circle cx="1450.0" cy="2297.6" r="10.5" fill="#000"/>
<circle cx="1474.5" cy="2370.0" r="10.5" fill="#000"/>
<circle cx="1493.7" cy="2303.2" r="10.5" fill="#000"/>
<circle cx="1514.8" cy="2346.3" r="10.5" fill="#000"/>
<circle cx="1532.3" cy="2320.1" r="10.5" fill="#000"/>
<circle cx="1552.8" cy="2255.4" r="10.5" fill="#000"/>
<circle cx="1569.7" cy="2311.7" r="10.5" fill="#000"/>
<circle cx="1588.0" cy="2244.0" r="10.5" fill="#000"/>
<circle cx="1603.5" cy="2080.7" r="10.5" fill="#000"/>
<circle cx="1619.9" cy="2108.3" r="10.5" fill="#000"/>
<circle cx="1636.0" cy="2235.0" r="10.5" fill="#000"/>
<circle cx="1647.9" cy="2178.6" r="10.5" fill="#000"/>
<circle cx="1659.0" cy="2177.0" r="10.5" fill="#000"/>
<circle cx="1669.0" cy="2175.8" r="10.5" fill="#000"/>
<circle cx="1678.9" cy="2098.3" r="10.5" fill="#000"/>
<circle cx="1691.5" cy="2192.7" r="10.5" fill="#000"/>
<circle cx="1705.6" cy="2270.1" r="10.5" fill="#000"/>
<circle cx="1718.3" cy="2309.6" r="10.5" fill="#000"/>
<circle cx="1728.0" cy="2322.0" r="10.5" fill="#000"/>
<circle cx="1736.6" cy="2343.4" r="10.5" fill="#000"/>
<circle cx="1749.3" cy="2073.0" r="10.5" fill="#000"/>
<circle cx="1762.0" cy="2199.7" r="10.5" fill="#000"/>
<circle cx="1769.0" cy="2096.9" r="10.5" fill="#000"/>
<circle cx="1780.3" cy="2308.2" r="10.5" fill="#000"/>
<circle cx="1791.5" cy="2142.0" r="10.5" fill="#000"/>
<circle cx="1804.2" cy="2040.6" r="10.5" fill="#000"/>
<circle cx="1816.9" cy="2116.6" r="10.5" fill="#000"/>
<circle cx="1828.2" cy="2032.1" r="10.5" fill="#000"/>
<circle cx="1843.7" cy="1960.3" r="10.5" fill="#000"/>
<circle cx="1859.2" cy="2032.1" r="10.5" fill="#000"/>
<circle cx="1871.8" cy="2051.8" r="10.5" fill="#000"/>
<circle cx="1887.3" cy="1932.1" r="10.5" fill="#000"/>
<circle cx="1901.4" cy="2161.7" r="10.5" fill="#000"/>
<circle cx="1915.5" cy="1988.5" r="10.5" fill="#000"/>
<circle cx="1932.4" cy="1980.0" r="10.5" fill="#000"/>
<circle cx="1949.3" cy="1970.1" r="10.5" fill="#000"/>
<circle cx="1969.0" cy="1958.9" r="10.5" fill="#000"/>
<circle cx="1988.7" cy="1908.2" r="10.5" fill="#000"/>
<circle cx="1996.5" cy="1855.8" r="10.5" fill="#000"/>
<circle cx="2016.2" cy="1895.2" r="10.5" fill="#000"/>
<circle cx="2033.1" cy="1886.8" r="10.5" fill="#000"/>
<circle cx="2051.4" cy="1917.7" r="10.5" fill="#000"/>
<circle cx="2068.3" cy="1888.2" r="10.5" fill="#000"/>
<circle cx="2088.0" cy="1931.8" r="10.5" fill="#000"/>
<circle cx="2103.5" cy="1900.8" r="10.5" fill="#000"/>
<circle cx="2119.0" cy="1931.8" r="10.5" fill="#000"/>
<circle cx="2134.5" cy="2017.7" r="10.5" fill="#000"/>
<circle cx="2145.8" cy="1953.0" r="10.5" fill="#000"/>
<circle cx="2158.5" cy="2337.5" r="10.5" fill="#000"/>
<circle cx="2169.7" cy="2209.3" r="10.5" fill="#000"/>
<circle cx="2181.0" cy="2013.5" r="10.5" fill="#000"/>
<circle cx="2189.4" cy="1917.7" r="10.5" fill="#000"/>
<circle cx="2200.7" cy="1871.3" r="10.5" fill="#000"/>
<circle cx="2210.6" cy="1950.1" r="10.5" fill="#000"/>
<circle cx="2220.0" cy="1942.0" r="10.5" fill="#000"/>
<circle cx="2227.5" cy="1934.6" r="10.5" fill="#000"/>
<line x1="333.0" y1="1709.5" x2="2329.5" y2="1709.5" stroke="#b6b6b6" stroke-width="5"/>
<line x1="333.0" y1="1705.0" x2="2329.5" y2="1705.0" stroke="#8f8f8f" stroke-width="5"/>
<line x1="335.0" y1="1706.5" x2="335.0" y2="2004.0" stroke="#888" stroke-width="5"/>
<line x1="335.0" y1="2004.0" x2="335.0" y2="2581.0" stroke="#111" stroke-width="5"/>
<line x1="333.0" y1="2584.0" x2="2327.5" y2="2584.0" stroke="#d2d2d2" stroke-width="5"/>
<line x1="333.0" y1="2579.0" x2="2327.5" y2="2579.0" stroke="#6c6c6c" stroke-width="5"/>
<line x1="410.0" y1="2579.0" x2="2252.0" y2="2579.0" stroke="#222" stroke-width="5"/>
<line x1="2327.5" y1="1704.5" x2="2327.5" y2="2581.0" stroke="#333" stroke-width="5"/>
<line x1="300.0" y1="1836.0" x2="335.0" y2="1836.0" stroke="#333" stroke-width="4"/>
<line x1="300.0" y1="2150.0" x2="335.0" y2="2150.0" stroke="#333" stroke-width="4"/>
<line x1="300.0" y1="2501.0" x2="335.0" y2="2501.0" stroke="#333" stroke-width="4"/>
<text transform="translate(187.07,1860.45) scale(0.9769,1)" font-size="54.56" font-weight="normal" fill="#333">0.75</text>
<text transform="translate(187.07,2174.45) scale(0.9706,1)" font-size="54.84" font-weight="normal" fill="#333">0.50</text>
<text transform="translate(187.07,2510.48) scale(1.0191,1)" font-size="52.30" font-weight="normal" fill="#333">0.25</text>
<line x1="618.0" y1="2579.0" x2="618.0" y2="2614.6" stroke="#666" stroke-width="4"/>
<line x1="1011.5" y1="2579.0" x2="1011.5" y2="2614.6" stroke="#666" stroke-width="4"/>
<line x1="1405.0" y1="2579.0" x2="1405.0" y2="2614.6" stroke="#666" stroke-width="4"/>
<line x1="1799.0" y1="2579.0" x2="1799.0" y2="2614.6" stroke="#666" stroke-width="4"/>
<line x1="2194.0" y1="2579.0" x2="2194.0" y2="2614.6" stroke="#666" stroke-width="4"/>
<text transform="translate(349.61,2568.96) scale(1.0201,1)" font-size="63.75" font-weight="bold" fill="#00902e">HERBS</text>
<text transform="translate(2096.94,1766.12) scale(0.9696,1)" font-size="67.56" font-weight="bold" fill="#00902e">TREES</text>
<text transform="translate(155.95,2435.69) rotate(-90) scale(1.0348,1)" font-size="75.24" font-weight="normal" fill="#000">Charcoal WL</text>
<text transform="translate(30.54,2686.00) scale(0.8214,1)" font-size="80.44" font-weight="bold" fill="#000" stroke="#000" stroke-width="2.5">E</text>
<polygon points="405.4,3319.0 600.0,3326.0 800.0,3325.0 1000.0,3317.0 1150.0,3312.0 1300.0,3308.0 1409.9,3293.3 1460.0,3286.0 1505.0,3273.2 1534.4,3254.9 1593.0,3222.0 1648.0,3193.0 1684.5,3180.0 1720.0,3174.0 1739.4,3174.6 1761.4,3176.3 1790.0,3188.0 1805.5,3192.0 1844.2,3209.5 1890.7,3199.8 1933.3,3168.8 1964.3,3106.9 2006.9,3044.9 2053.4,2979.0 2076.6,2969.4 2099.9,2975.2 2138.6,3006.2 2177.3,3064.3 2208.3,3137.9 2235.4,3215.3 2254.8,3285.0 2254.8,3329.0 2235.4,3259.3 2208.3,3181.9 2177.3,3108.3 2138.6,3050.2 2099.9,3019.2 2076.6,3013.4 2053.4,3023.0 2006.9,3088.9 1964.3,3150.9 1933.3,3212.8 1890.7,3243.8 1844.2,3253.5 1805.5,3236.0 1790.0,3232.0 1761.4,3220.3 1739.4,3214.6 1720.0,3214.0 1684.5,3220.0 1648.0,3233.0 1593.0,3270.0 1534.4,3302.9 1505.0,3321.2 1460.0,3334.0 1409.9,3341.3 1300.0,3356.0 1150.0,3360.0 1000.0,3365.0 800.0,3373.0 600.0,3394.0 405.4,3423.0" fill="#d4d4d4"/>
<line x1="475.8" y1="3371.0" x2="475.8" y2="3384.0" stroke="#999" stroke-width="7"/>
<line x1="538.5" y1="3346.5" x2="538.5" y2="3384.0" stroke="#777" stroke-width="7"/>
<line x1="601.0" y1="3366.0" x2="601.0" y2="3384.0" stroke="#aaa" stroke-width="7"/>
<line x1="664.5" y1="3366.0" x2="664.5" y2="3384.0" stroke="#999" stroke-width="7"/>
<line x1="723.0" y1="3357.0" x2="723.0" y2="3384.0" stroke="#999" stroke-width="7"/>
<line x1="778.0" y1="3325.0" x2="778.0" y2="3384.0" stroke="#999" stroke-width="7"/>
<line x1="837.0" y1="3343.0" x2="837.0" y2="3384.0" stroke="#888" stroke-width="7"/>
<line x1="890.0" y1="3357.0" x2="890.0" y2="3384.0" stroke="#777" stroke-width="7"/>
<line x1="940.0" y1="3357.0" x2="940.0" y2="3384.0" stroke="#222" stroke-width="7"/>
<line x1="992.0" y1="3307.7" x2="992.0" y2="3384.0" stroke="#999" stroke-width="7"/>
<line x1="1039.0" y1="3307.7" x2="1039.0" y2="3384.0" stroke="#222" stroke-width="7"/>
<line x1="1085.6" y1="3325.0" x2="1085.6" y2="3384.0" stroke="#999" stroke-width="7"/>
<line x1="1130.0" y1="3339.0" x2="1130.0" y2="3384.0" stroke="#999" stroke-width="7"/>
<line x1="1173.0" y1="3341.0" x2="1173.0" y2="3384.0" stroke="#777" stroke-width="7"/>
<line x1="1212.0" y1="3358.0" x2="1212.0" y2="3384.0" stroke="#999" stroke-width="7"/>
<line x1="1248.2" y1="3296.8" x2="1248.2" y2="3384.0" stroke="#222" stroke-width="7"/>
<line x1="1284.2" y1="3296.8" x2="1284.2" y2="3384.0" stroke="#888" stroke-width="7"/>
<line x1="1350.3" y1="3351.8" x2="1350.3" y2="3384.0" stroke="#aaa" stroke-width="7"/>
<line x1="1378.2" y1="3308.5" x2="1378.2" y2="3384.0" stroke="#aaa" stroke-width="7"/>
<line x1="1405.2" y1="3358.0" x2="1405.2" y2="3384.0" stroke="#aaa" stroke-width="7"/>
<line x1="1430.0" y1="3221.0" x2="1430.0" y2="3384.0" stroke="#333" stroke-width="7"/>
<line x1="1452.7" y1="3326.5" x2="1452.7" y2="3384.0" stroke="#333" stroke-width="7"/>
<line x1="1474.0" y1="3335.6" x2="1474.0" y2="3384.0" stroke="#444" stroke-width="7"/>
<line x1="1496.0" y1="3346.6" x2="1496.0" y2="3384.0" stroke="#111" stroke-width="7"/>
<line x1="1517.0" y1="3310.0" x2="1517.0" y2="3384.0" stroke="#888" stroke-width="7"/>
<line x1="1534.7" y1="3211.0" x2="1534.7" y2="3384.0" stroke="#555" stroke-width="7"/>
<line x1="1556.3" y1="3328.0" x2="1556.3" y2="3384.0" stroke="#333" stroke-width="7"/>
<line x1="1574.6" y1="3271.5" x2="1574.6" y2="3384.0" stroke="#999" stroke-width="7"/>
<line x1="1590.4" y1="3297.2" x2="1590.4" y2="3384.0" stroke="#555" stroke-width="7"/>
<line x1="1611.3" y1="3302.7" x2="1611.3" y2="3384.0" stroke="#222" stroke-width="7"/>
<line x1="1627.0" y1="3125.0" x2="1627.0" y2="3384.0" stroke="#555" stroke-width="7"/>
<line x1="1642.4" y1="3308.0" x2="1642.4" y2="3384.0" stroke="#999" stroke-width="7"/>
<line x1="1658.9" y1="3163.5" x2="1658.9" y2="3384.0" stroke="#999" stroke-width="7"/>
<line x1="1673.5" y1="3310.0" x2="1673.5" y2="3384.0" stroke="#888" stroke-width="7"/>
<line x1="1688.0" y1="3183.6" x2="1688.0" y2="3384.0" stroke="#444" stroke-width="7"/>
<line x1="1699.0" y1="3165.0" x2="1699.0" y2="3384.0" stroke="#999" stroke-width="7"/>
<line x1="1713.8" y1="3106.8" x2="1713.8" y2="3384.0" stroke="#aaa" stroke-width="7"/>
<line x1="1727.7" y1="3341.0" x2="1727.7" y2="3384.0" stroke="#999" stroke-width="7"/>
<line x1="1741.0" y1="3194.6" x2="1741.0" y2="3384.0" stroke="#aaa" stroke-width="7"/>
<line x1="1754.0" y1="2964.0" x2="1754.0" y2="3384.0" stroke="#777" stroke-width="7"/>
<line x1="1759.6" y1="3313.6" x2="1759.6" y2="3384.0" stroke="#111" stroke-width="7"/>
<line x1="1772.4" y1="3055.5" x2="1772.4" y2="3384.0" stroke="#444" stroke-width="7"/>
<line x1="1785.2" y1="3264.0" x2="1785.2" y2="3384.0" stroke="#aaa" stroke-width="7"/>
<line x1="1792.5" y1="3022.5" x2="1792.5" y2="3384.0" stroke="#222" stroke-width="7"/>
<line x1="1804.7" y1="3270.0" x2="1804.7" y2="3384.0" stroke="#111" stroke-width="7"/>
<line x1="1815.2" y1="3280.0" x2="1815.2" y2="3384.0" stroke="#222" stroke-width="7"/>
<line x1="1826.8" y1="3171.5" x2="1826.8" y2="3384.0" stroke="#888" stroke-width="7"/>
<line x1="1839.6" y1="3291.5" x2="1839.6" y2="3384.0" stroke="#aaa" stroke-width="7"/>
<line x1="1851.2" y1="3357.4" x2="1851.2" y2="3384.0" stroke="#aaa" stroke-width="7"/>
<line x1="1867.5" y1="3144.4" x2="1867.5" y2="3384.0" stroke="#aaa" stroke-width="7"/>
<line x1="1882.2" y1="3154.0" x2="1882.2" y2="3384.0" stroke="#777" stroke-width="7"/>
<line x1="1894.6" y1="3336.0" x2="1894.6" y2="3384.0" stroke="#aaa" stroke-width="7"/>
<line x1="1911.2" y1="3318.7" x2="1911.2" y2="3384.0" stroke="#aaa" stroke-width="7"/>
<line x1="1924.8" y1="3365.0" x2="1924.8" y2="3384.0" stroke="#222" stroke-width="7"/>
<line x1="1937.2" y1="3144.4" x2="1937.2" y2="3384.0" stroke="#888" stroke-width="7"/>
<line x1="1950.0" y1="3055.0" x2="1950.0" y2="3384.0" stroke="#aaa" stroke-width="7"/>
<line x1="1961.6" y1="3291.5" x2="1961.6" y2="3384.0" stroke="#aaa" stroke-width="7"/>
<line x1="1977.9" y1="3121.0" x2="1977.9" y2="3384.0" stroke="#aaa" stroke-width="7"/>
<line x1="1993.3" y1="3101.8" x2="1993.3" y2="3384.0" stroke="#aaa" stroke-width="7"/>
<line x1="2013.0" y1="2977.8" x2="2013.0" y2="3384.0" stroke="#111" stroke-width="7"/>
<line x1="2021.6" y1="3070.8" x2="2021.6" y2="3384.0" stroke="#aaa" stroke-width="7"/>
<line x1="2041.0" y1="2861.6" x2="2041.0" y2="3384.0" stroke="#222" stroke-width="7"/>
<line x1="2057.3" y1="3020.4" x2="2057.3" y2="3384.0" stroke="#333" stroke-width="7"/>
<line x1="2076.6" y1="2974.0" x2="2076.6" y2="3384.0" stroke="#aaa" stroke-width="7"/>
<line x1="2091.3" y1="2977.8" x2="2091.3" y2="3384.0" stroke="#777" stroke-width="7"/>
<line x1="2112.6" y1="2919.7" x2="2112.6" y2="3384.0" stroke="#222" stroke-width="7"/>
<line x1="2128.9" y1="2857.7" x2="2128.9" y2="3384.0" stroke="#777" stroke-width="7"/>
<line x1="2142.8" y1="2852.0" x2="2142.8" y2="3384.0" stroke="#aaa" stroke-width="7"/>
<line x1="2159.9" y1="3140.5" x2="2159.9" y2="3384.0" stroke="#aaa" stroke-width="7"/>
<line x1="2172.7" y1="3103.7" x2="2172.7" y2="3384.0" stroke="#999" stroke-width="7"/>
<line x1="2184.3" y1="3231.5" x2="2184.3" y2="3384.0" stroke="#333" stroke-width="7"/>
<line x1="2194.8" y1="2896.5" x2="2194.8" y2="3384.0" stroke="#111" stroke-width="7"/>
<line x1="2206.4" y1="3223.8" x2="2206.4" y2="3384.0" stroke="#222" stroke-width="7"/>
<line x1="2215.3" y1="3198.6" x2="2215.3" y2="3384.0" stroke="#aaa" stroke-width="7"/>
<line x1="2227.7" y1="3291.5" x2="2227.7" y2="3384.0" stroke="#aaa" stroke-width="7"/>
<line x1="2234.6" y1="3272.0" x2="2234.6" y2="3384.0" stroke="#333" stroke-width="7"/>
<line x1="2243.2" y1="3249.0" x2="2243.2" y2="3384.0" stroke="#888" stroke-width="7"/>
<line x1="2254.8" y1="3332.0" x2="2254.8" y2="3384.0" stroke="#888" stroke-width="7"/>
<path d="M405.4,3371.0 C437.8,3369.2 534.2,3363.7 600.0,3360.0 C665.8,3356.3 733.3,3352.2 800.0,3349.0 C866.7,3345.8 941.7,3343.2 1000.0,3341.0 C1058.3,3338.8 1100.0,3337.5 1150.0,3336.0 C1200.0,3334.5 1256.7,3335.1 1300.0,3332.0 C1343.3,3328.9 1383.2,3321.0 1409.9,3317.3 C1436.6,3313.6 1444.2,3313.3 1460.0,3310.0 C1475.8,3306.7 1492.6,3302.4 1505.0,3297.2 C1517.4,3292.0 1519.7,3287.4 1534.4,3278.9 C1549.1,3270.4 1574.1,3257.0 1593.0,3246.0 C1611.9,3235.0 1632.8,3220.7 1648.0,3213.0 C1663.2,3205.3 1672.5,3203.2 1684.5,3200.0 C1696.5,3196.8 1710.8,3194.9 1720.0,3194.0 C1729.2,3193.1 1732.5,3193.9 1739.4,3194.6 C1746.3,3195.3 1753.0,3195.7 1761.4,3198.3 C1769.8,3200.9 1782.7,3207.4 1790.0,3210.0 C1797.3,3212.6 1796.5,3210.4 1805.5,3214.0 C1814.5,3217.6 1830.0,3230.2 1844.2,3231.5 C1858.4,3232.8 1875.9,3228.6 1890.7,3221.8 C1905.5,3215.0 1921.0,3206.3 1933.3,3190.8 C1945.6,3175.3 1952.0,3149.6 1964.3,3128.9 C1976.6,3108.2 1992.1,3088.2 2006.9,3066.9 C2021.8,3045.6 2041.8,3013.6 2053.4,3001.0 C2065.0,2988.4 2068.8,2992.0 2076.6,2991.4 C2084.3,2990.8 2089.6,2991.1 2099.9,2997.2 C2110.2,3003.3 2125.7,3013.3 2138.6,3028.2 C2151.5,3043.0 2165.7,3064.4 2177.3,3086.3 C2188.9,3108.2 2198.6,3134.7 2208.3,3159.9 C2218.0,3185.1 2227.7,3212.8 2235.4,3237.3 C2243.2,3261.8 2251.6,3295.4 2254.8,3307.0" fill="none" stroke="#0a2bff" stroke-width="7"/>
<line x1="333.0" y1="2639.2" x2="2329.6" y2="2639.2" stroke="#2a2a2a" stroke-width="5"/>
<line x1="330.0" y1="2639.2" x2="330.0" y2="3398.0" stroke="#e0e0e0" stroke-width="5"/>
<line x1="335.0" y1="2639.2" x2="335.0" y2="3398.0" stroke="#585858" stroke-width="5"/>
<line x1="333.0" y1="3397.0" x2="2329.6" y2="3397.0" stroke="#9a9a9a" stroke-width="7"/>
<line x1="611.0" y1="3397.0" x2="2191.0" y2="3397.0" stroke="#2a2a2a" stroke-width="6"/>
<line x1="2327.6" y1="2637.2" x2="2327.6" y2="3398.0" stroke="#444" stroke-width="5"/>
<line x1="301.0" y1="3381.0" x2="335.0" y2="3381.0" stroke="#222" stroke-width="4"/>
<line x1="301.0" y1="3296.5" x2="335.0" y2="3296.5" stroke="#222" stroke-width="4"/>
<line x1="301.0" y1="3212.0" x2="335.0" y2="3212.0" stroke="#222" stroke-width="4"/>
<line x1="301.0" y1="3127.5" x2="335.0" y2="3127.5" stroke="#222" stroke-width="4"/>
<line x1="301.0" y1="3043.0" x2="335.0" y2="3043.0" stroke="#222" stroke-width="4"/>
<line x1="301.0" y1="2958.5" x2="335.0" y2="2958.5" stroke="#222" stroke-width="4"/>
<line x1="301.0" y1="2874.0" x2="335.0" y2="2874.0" stroke="#222" stroke-width="4"/>
<text transform="translate(213.91,2911.07) scale(1.0113,1)" font-size="53.29" font-weight="normal" fill="#333">60</text>
<text transform="translate(214.47,2993.47) scale(1.0015,1)" font-size="53.29" font-weight="normal" fill="#333">50</text>
<text transform="translate(210.31,3076.16) scale(1.0546,1)" font-size="54.28" font-weight="normal" fill="#333">40</text>
<text transform="translate(214.60,3153.16) scale(0.9783,1)" font-size="54.42" font-weight="normal" fill="#333">30</text>
<text transform="translate(208.66,3235.17) scale(1.1149,1)" font-size="52.72" font-weight="normal" fill="#333">20</text>
<text transform="translate(212.46,3318.36) scale(1.0151,1)" font-size="54.42" font-weight="normal" fill="#333">10</text>
<text transform="translate(241.57,3400.26) scale(1.0699,1)" font-size="54.42" font-weight="normal" fill="#333">0</text>
<line x1="612.0" y1="3396.0" x2="612.0" y2="3428.0" stroke="#555" stroke-width="4"/>
<line x1="1007.5" y1="3396.0" x2="1007.5" y2="3428.0" stroke="#555" stroke-width="4"/>
<line x1="1402.5" y1="3396.0" x2="1402.5" y2="3428.0" stroke="#555" stroke-width="4"/>
<line x1="1799.0" y1="3396.0" x2="1799.0" y2="3428.0" stroke="#555" stroke-width="4"/>
<line x1="2192.0" y1="3396.0" x2="2192.0" y2="3428.0" stroke="#555" stroke-width="4"/>
<text transform="translate(373.53,2712.34) scale(0.9797,1)" font-size="66.15" font-weight="bold" fill="#ff2010">FIRE EPISODES</text>
<text transform="translate(374.74,2788.35) scale(0.9908,1)" font-size="65.31" font-weight="normal" fill="#9c6a14">Tree scar fires</text>
<text transform="translate(155.75,3345.08) rotate(-90) scale(1.0288,1)" font-size="75.37" font-weight="normal" fill="#000">Char Count flux</text>
<line x1="972.0" y1="2686.6" x2="1085.0" y2="2686.6" stroke="#ff9c9c" stroke-width="9"/>
<line x1="974.0" y1="2670.6" x2="974.0" y2="2702.6" stroke="#ff4848" stroke-width="5.5"/>
<line x1="1083.0" y1="2670.6" x2="1083.0" y2="2702.6" stroke="#ff4848" stroke-width="5.5"/>
<line x1="1413.0" y1="2686.6" x2="1521.5" y2="2686.6" stroke="#ff9c9c" stroke-width="9"/>
<line x1="1415.0" y1="2670.6" x2="1415.0" y2="2702.6" stroke="#ff4848" stroke-width="5.5"/>
<line x1="1519.5" y1="2670.6" x2="1519.5" y2="2702.6" stroke="#ff4848" stroke-width="5.5"/>
<line x1="1588.0" y1="2686.6" x2="1663.5" y2="2686.6" stroke="#ff9c9c" stroke-width="9"/>
<line x1="1590.0" y1="2670.6" x2="1590.0" y2="2702.6" stroke="#ff4848" stroke-width="5.5"/>
<line x1="1661.5" y1="2670.6" x2="1661.5" y2="2702.6" stroke="#ff4848" stroke-width="5.5"/>
<line x1="1714.7" y1="2686.6" x2="1738.5" y2="2686.6" stroke="#ff9c9c" stroke-width="9"/>
<line x1="1716.7" y1="2670.6" x2="1716.7" y2="2702.6" stroke="#ff4848" stroke-width="5.5"/>
<line x1="1736.5" y1="2670.6" x2="1736.5" y2="2702.6" stroke="#ff4848" stroke-width="5.5"/>
<line x1="1751.7" y1="2686.6" x2="1775.4" y2="2686.6" stroke="#ff9c9c" stroke-width="9"/>
<line x1="1753.7" y1="2670.6" x2="1753.7" y2="2702.6" stroke="#ff4848" stroke-width="5.5"/>
<line x1="1773.4" y1="2670.6" x2="1773.4" y2="2702.6" stroke="#ff4848" stroke-width="5.5"/>
<line x1="1783.3" y1="2686.6" x2="1807.0" y2="2686.6" stroke="#ff9c9c" stroke-width="9"/>
<line x1="1785.3" y1="2670.6" x2="1785.3" y2="2702.6" stroke="#ff4848" stroke-width="5.5"/>
<line x1="1805.0" y1="2670.6" x2="1805.0" y2="2702.6" stroke="#ff4848" stroke-width="5.5"/>
<line x1="1823.0" y1="2686.6" x2="1846.7" y2="2686.6" stroke="#ff9c9c" stroke-width="9"/>
<line x1="1825.0" y1="2670.6" x2="1825.0" y2="2702.6" stroke="#ff4848" stroke-width="5.5"/>
<line x1="1844.7" y1="2670.6" x2="1844.7" y2="2702.6" stroke="#ff4848" stroke-width="5.5"/>
<line x1="1878.4" y1="2686.6" x2="1902.2" y2="2686.6" stroke="#ff9c9c" stroke-width="9"/>
<line x1="1880.4" y1="2670.6" x2="1880.4" y2="2702.6" stroke="#ff4848" stroke-width="5.5"/>
<line x1="1900.2" y1="2670.6" x2="1900.2" y2="2702.6" stroke="#ff4848" stroke-width="5.5"/>
<line x1="1939.0" y1="2686.6" x2="1963.0" y2="2686.6" stroke="#ff9c9c" stroke-width="9"/>
<line x1="1941.0" y1="2670.6" x2="1941.0" y2="2702.6" stroke="#ff4848" stroke-width="5.5"/>
<line x1="1961.0" y1="2670.6" x2="1961.0" y2="2702.6" stroke="#ff4848" stroke-width="5.5"/>
<line x1="2000.0" y1="2686.6" x2="2026.3" y2="2686.6" stroke="#ff9c9c" stroke-width="9"/>
<line x1="2002.0" y1="2670.6" x2="2002.0" y2="2702.6" stroke="#ff4848" stroke-width="5.5"/>
<line x1="2024.3" y1="2670.6" x2="2024.3" y2="2702.6" stroke="#ff4848" stroke-width="5.5"/>
<line x1="2039.5" y1="2686.6" x2="2063.3" y2="2686.6" stroke="#ff9c9c" stroke-width="9"/>
<line x1="2041.5" y1="2670.6" x2="2041.5" y2="2702.6" stroke="#ff4848" stroke-width="5.5"/>
<line x1="2061.3" y1="2670.6" x2="2061.3" y2="2702.6" stroke="#ff4848" stroke-width="5.5"/>
<line x1="2110.8" y1="2686.6" x2="2132.0" y2="2686.6" stroke="#ff9c9c" stroke-width="9"/>
<line x1="2112.8" y1="2670.6" x2="2112.8" y2="2702.6" stroke="#ff4848" stroke-width="5.5"/>
<line x1="2130.0" y1="2670.6" x2="2130.0" y2="2702.6" stroke="#ff4848" stroke-width="5.5"/>
<line x1="2187.4" y1="2686.6" x2="2213.8" y2="2686.6" stroke="#ff9c9c" stroke-width="9"/>
<line x1="2189.4" y1="2670.6" x2="2189.4" y2="2702.6" stroke="#ff4848" stroke-width="5.5"/>
<line x1="2211.8" y1="2670.6" x2="2211.8" y2="2702.6" stroke="#ff4848" stroke-width="5.5"/>
<line x1="1957.5" y1="2683.6" x2="1981.5" y2="2683.6" stroke="#b0b0b0" stroke-width="5"/>
<line x1="1969.5" y1="2668.6" x2="1969.5" y2="2698.6" stroke="#b0b0b0" stroke-width="5"/>
<line x1="2131.0" y1="2683.6" x2="2155.0" y2="2683.6" stroke="#b0b0b0" stroke-width="5"/>
<line x1="2143.0" y1="2668.6" x2="2143.0" y2="2698.6" stroke="#b0b0b0" stroke-width="5"/>
<line x1="2151.0" y1="2683.6" x2="2175.0" y2="2683.6" stroke="#b0b0b0" stroke-width="5"/>
<line x1="2163.0" y1="2668.6" x2="2163.0" y2="2698.6" stroke="#b0b0b0" stroke-width="5"/>
<line x1="1483.4" y1="2766.5" x2="1515.4" y2="2766.5" stroke="#996600" stroke-width="5"/>
<line x1="1499.4" y1="2748.5" x2="1499.4" y2="2784.5" stroke="#996600" stroke-width="5"/>
<line x1="1562.2" y1="2766.5" x2="1594.2" y2="2766.5" stroke="#996600" stroke-width="5"/>
<line x1="1578.2" y1="2748.5" x2="1578.2" y2="2784.5" stroke="#996600" stroke-width="5"/>
<line x1="1587.0" y1="2766.5" x2="1619.0" y2="2766.5" stroke="#996600" stroke-width="5"/>
<line x1="1603.0" y1="2748.5" x2="1603.0" y2="2784.5" stroke="#996600" stroke-width="5"/>
<line x1="1631.6" y1="2766.5" x2="1663.6" y2="2766.5" stroke="#996600" stroke-width="5"/>
<line x1="1647.6" y1="2748.5" x2="1647.6" y2="2784.5" stroke="#996600" stroke-width="5"/>
<line x1="1704.0" y1="2766.5" x2="1736.0" y2="2766.5" stroke="#996600" stroke-width="5"/>
<line x1="1720.0" y1="2748.5" x2="1720.0" y2="2784.5" stroke="#996600" stroke-width="5"/>
<line x1="1717.2" y1="2766.5" x2="1749.2" y2="2766.5" stroke="#996600" stroke-width="5"/>
<line x1="1733.2" y1="2748.5" x2="1733.2" y2="2784.5" stroke="#996600" stroke-width="5"/>
<line x1="1821.7" y1="2766.5" x2="1853.7" y2="2766.5" stroke="#996600" stroke-width="5"/>
<line x1="1837.7" y1="2748.5" x2="1837.7" y2="2784.5" stroke="#996600" stroke-width="5"/>
<line x1="1878.3" y1="2766.5" x2="1910.3" y2="2766.5" stroke="#996600" stroke-width="5"/>
<line x1="1894.3" y1="2748.5" x2="1894.3" y2="2784.5" stroke="#996600" stroke-width="5"/>
<text transform="translate(30.88,3551.00) scale(0.7974,1)" font-size="82.04" font-weight="bold" fill="#000" stroke="#000" stroke-width="2.5">F</text>
<rect x="330.7" y="3445.6" width="1996.3" height="562.9" fill="none" stroke="#9a9a9a" stroke-width="5"/>
<line x1="335.0" y1="3525.7" x2="335.0" y2="3988.2" stroke="#111" stroke-width="5"/>
<line x1="617.0" y1="4008.5" x2="2276.0" y2="4008.5" stroke="#333" stroke-width="5"/>
<line x1="299.4" y1="3525.7" x2="337.7" y2="3525.7" stroke="#222" stroke-width="4"/>
<line x1="299.4" y1="3680.6" x2="337.7" y2="3680.6" stroke="#222" stroke-width="4"/>
<line x1="299.4" y1="3835.0" x2="337.7" y2="3835.0" stroke="#222" stroke-width="4"/>
<line x1="299.4" y1="3988.2" x2="337.7" y2="3988.2" stroke="#222" stroke-width="4"/>
<text transform="translate(190.90,3550.45) scale(0.8948,1)" font-size="55.12" font-weight="normal" fill="#333">150</text>
<text transform="translate(190.90,3704.86) scale(0.9088,1)" font-size="54.28" font-weight="normal" fill="#333">100</text>
<text transform="translate(215.10,3852.47) scale(0.9965,1)" font-size="52.58" font-weight="normal" fill="#333">50</text>
<text transform="translate(241.93,4006.77) scale(1.0765,1)" font-size="52.72" font-weight="normal" fill="#333">0</text>
<line x1="618.0" y1="4008.5" x2="618.0" y2="4048.0" stroke="#555" stroke-width="4"/>
<line x1="1011.5" y1="4008.5" x2="1011.5" y2="4048.0" stroke="#555" stroke-width="4"/>
<line x1="1405.0" y1="4008.5" x2="1405.0" y2="4048.0" stroke="#555" stroke-width="4"/>
<line x1="1799.0" y1="4008.5" x2="1799.0" y2="4048.0" stroke="#555" stroke-width="4"/>
<line x1="2194.0" y1="4008.5" x2="2194.0" y2="4048.0" stroke="#555" stroke-width="4"/>
<text transform="translate(521.17,4128.66) scale(1.0031,1)" font-size="84.10" font-weight="normal" fill="#111">1600</text>
<text transform="translate(914.67,4128.66) scale(1.0031,1)" font-size="84.10" font-weight="normal" fill="#111">1700</text>
<text transform="translate(1308.17,4128.66) scale(1.0031,1)" font-size="84.10" font-weight="normal" fill="#111">1800</text>
<text transform="translate(1702.17,4128.66) scale(1.0031,1)" font-size="84.10" font-weight="normal" fill="#111">1900</text>
<text transform="translate(2099.33,4128.66) scale(0.9914,1)" font-size="84.10" font-weight="normal" fill="#111">2000</text>
<text transform="translate(1036.79,4253.98) scale(0.9505,1)" font-size="88.79" font-weight="normal" fill="#000">Age (AD)</text>
<text transform="translate(156.30,3798.64) rotate(-90) scale(0.9967,1)" font-size="79.56" font-weight="normal" fill="#000">FRI</text>
<circle cx="378" cy="3596" r="4" fill="#000"/>
<text transform="translate(411.16,3611.16) scale(1.0478,1)" font-size="63.67" font-weight="normal" fill="#111">Charcoal</text>
<rect x="369.0" y="3652.0" width="21.0" height="17.0" fill="none" stroke="#a87a2a" stroke-width="3.5"/>
<text transform="translate(413.03,3682.70) scale(0.9271,1)" font-size="70.25" font-weight="normal" fill="#9c6a14">Tree scars</text>
<line x1="360.0" y1="3504.8" x2="769.4" y2="3504.8" stroke="#555" stroke-width="5"/>
<polygon points="335.6,3504.8 374.0,3482.8 368.2,3504.8 374.0,3526.8" fill="#000"/>
<text transform="translate(773.51,3526.66) scale(1.0229,1)" font-size="63.60" font-weight="bold" fill="#000">PRE-SETTLEMENT</text>
<line x1="1364.8" y1="3504.8" x2="1722.0" y2="3504.8" stroke="#555" stroke-width="5"/>
<polygon points="1745.0,3504.8 1703.0,3482.8 1709.3,3504.8 1703.0,3526.8" fill="#000"/>
<line x1="1855.0" y1="3504.8" x2="1931.0" y2="3504.8" stroke="#555" stroke-width="5"/>
<polygon points="1832.4,3504.8 1872.0,3482.8 1866.1,3504.8 1872.0,3526.8" fill="#000"/>
<text transform="translate(1965.47,3528.34) scale(1.0096,1)" font-size="66.43" font-weight="bold" fill="#000">POST-</text>
<line x1="2204.6" y1="3504.8" x2="2282.0" y2="3504.8" stroke="#555" stroke-width="5"/>
<polygon points="2304.6,3504.8 2264.0,3482.8 2270.1,3504.8 2264.0,3526.8" fill="#000"/>
<text transform="translate(1850.56,3605.92) scale(0.9531,1)" font-size="67.70" font-weight="bold" fill="#000">SETTLEMENT</text>
<line x1="1480.3" y1="3656.3" x2="1665.4" y2="3826.0" stroke="#555" stroke-width="3"/>
<line x1="1686.0" y1="3845.0" x2="1757.7" y2="3911.5" stroke="#555" stroke-width="3"/>
<line x1="1778.4" y1="3930.4" x2="1799.6" y2="3949.3" stroke="#555" stroke-width="3"/>
<line x1="1862.1" y1="3965.8" x2="1934.9" y2="3923.5" stroke="#555" stroke-width="3"/>
<line x1="1959.6" y1="3922.6" x2="1992.4" y2="3938.5" stroke="#555" stroke-width="3"/>
<line x1="2018.7" y1="3941.8" x2="2071.3" y2="3931.3" stroke="#555" stroke-width="3"/>
<line x1="2093.7" y1="3939.5" x2="2105.8" y2="3954.8" stroke="#555" stroke-width="3"/>
<line x1="2127.3" y1="3960.1" x2="2175.6" y2="3938.4" stroke="#555" stroke-width="3"/>
<line x1="2202.3" y1="3931.3" x2="2264.7" y2="3924.9" stroke="#555" stroke-width="3"/>
<line x1="1567.4" y1="3938.8" x2="1610.1" y2="3962.5" stroke="#a87a2a" stroke-width="3" stroke-dasharray="12 10"/>
<line x1="1663.6" y1="3951.3" x2="1674.5" y2="3943.7" stroke="#a87a2a" stroke-width="3" stroke-dasharray="12 10"/>
<line x1="1702.2" y1="3943.9" x2="1743.6" y2="3973.5" stroke="#a87a2a" stroke-width="3" stroke-dasharray="12 10"/>
<line x1="1760.0" y1="3966.6" x2="1766.8" y2="3923.8" stroke="#a87a2a" stroke-width="3" stroke-dasharray="12 10"/>
<line x1="1785.1" y1="3913.6" x2="1848.8" y2="3940.2" stroke="#a87a2a" stroke-width="3" stroke-dasharray="12 10"/>
<line x1="1880.6" y1="3941.4" x2="1902.6" y2="3933.9" stroke="#a87a2a" stroke-width="3" stroke-dasharray="12 10"/>
<line x1="1465.0" y1="3646.8" x2="1475.0" y2="3646.8" stroke="#000" stroke-width="3"/>
<line x1="1470.0" y1="3641.8" x2="1470.0" y2="3651.8" stroke="#000" stroke-width="3"/>
<line x1="1670.7" y1="3835.5" x2="1680.7" y2="3835.5" stroke="#000" stroke-width="3"/>
<line x1="1675.7" y1="3830.5" x2="1675.7" y2="3840.5" stroke="#000" stroke-width="3"/>
<line x1="1763.0" y1="3921.0" x2="1773.0" y2="3921.0" stroke="#000" stroke-width="3"/>
<line x1="1768.0" y1="3916.0" x2="1768.0" y2="3926.0" stroke="#000" stroke-width="3"/>
<line x1="1805.0" y1="3958.7" x2="1815.0" y2="3958.7" stroke="#000" stroke-width="3"/>
<line x1="1810.0" y1="3953.7" x2="1810.0" y2="3963.7" stroke="#000" stroke-width="3"/>
<line x1="1824.0" y1="3972.8" x2="1834.0" y2="3972.8" stroke="#000" stroke-width="3"/>
<line x1="1829.0" y1="3967.8" x2="1829.0" y2="3977.8" stroke="#000" stroke-width="3"/>
<line x1="1845.0" y1="3972.8" x2="1855.0" y2="3972.8" stroke="#000" stroke-width="3"/>
<line x1="1850.0" y1="3967.8" x2="1850.0" y2="3977.8" stroke="#000" stroke-width="3"/>
<line x1="1942.0" y1="3916.5" x2="1952.0" y2="3916.5" stroke="#000" stroke-width="3"/>
<line x1="1947.0" y1="3911.5" x2="1947.0" y2="3921.5" stroke="#000" stroke-width="3"/>
<line x1="2000.0" y1="3944.6" x2="2010.0" y2="3944.6" stroke="#000" stroke-width="3"/>
<line x1="2005.0" y1="3939.6" x2="2005.0" y2="3949.6" stroke="#000" stroke-width="3"/>
<line x1="2080.0" y1="3928.5" x2="2090.0" y2="3928.5" stroke="#000" stroke-width="3"/>
<line x1="2085.0" y1="3923.5" x2="2085.0" y2="3933.5" stroke="#000" stroke-width="3"/>
<line x1="2109.5" y1="3965.8" x2="2119.5" y2="3965.8" stroke="#000" stroke-width="3"/>
<line x1="2114.5" y1="3960.8" x2="2114.5" y2="3970.8" stroke="#000" stroke-width="3"/>
<line x1="2183.4" y1="3932.7" x2="2193.4" y2="3932.7" stroke="#000" stroke-width="3"/>
<line x1="2188.4" y1="3927.7" x2="2188.4" y2="3937.7" stroke="#000" stroke-width="3"/>
<line x1="2273.6" y1="3923.5" x2="2283.6" y2="3923.5" stroke="#000" stroke-width="3"/>
<line x1="2278.6" y1="3918.5" x2="2278.6" y2="3928.5" stroke="#000" stroke-width="3"/>
<rect x="1542.5" y="3922.6" width="20" height="16" rx="6" fill="none" stroke="#a87a2a" stroke-width="3.5"/>
<rect x="1615.0" y="3962.7" width="20" height="16" rx="6" fill="none" stroke="#a87a2a" stroke-width="3.5"/>
<rect x="1639.7" y="3953.0" width="20" height="16" rx="6" fill="none" stroke="#a87a2a" stroke-width="3.5"/>
<rect x="1678.4" y="3926.0" width="20" height="16" rx="6" fill="none" stroke="#a87a2a" stroke-width="3.5"/>
<rect x="1747.4" y="3975.4" width="20" height="16" rx="6" fill="none" stroke="#a87a2a" stroke-width="3.5"/>
<rect x="1759.4" y="3899.0" width="20" height="16" rx="6" fill="none" stroke="#a87a2a" stroke-width="3.5"/>
<rect x="1854.5" y="3938.8" width="20" height="16" rx="6" fill="none" stroke="#a87a2a" stroke-width="3.5"/>
<rect x="1908.7" y="3920.5" width="20" height="16" rx="6" fill="none" stroke="#a87a2a" stroke-width="3.5"/>
<line x1="1803.8" y1="1696.0" x2="1803.8" y2="4008.0" stroke="#cdcdcd" stroke-width="4.5" stroke-dasharray="43.5 41.85" stroke-dashoffset="19.35"/>
<line x1="1799.2" y1="1696.0" x2="1799.2" y2="4008.0" stroke="#4c4c4c" stroke-width="5.5" stroke-dasharray="43.5 41.85" stroke-dashoffset="19.35"/>
</svg>
</body></html>
